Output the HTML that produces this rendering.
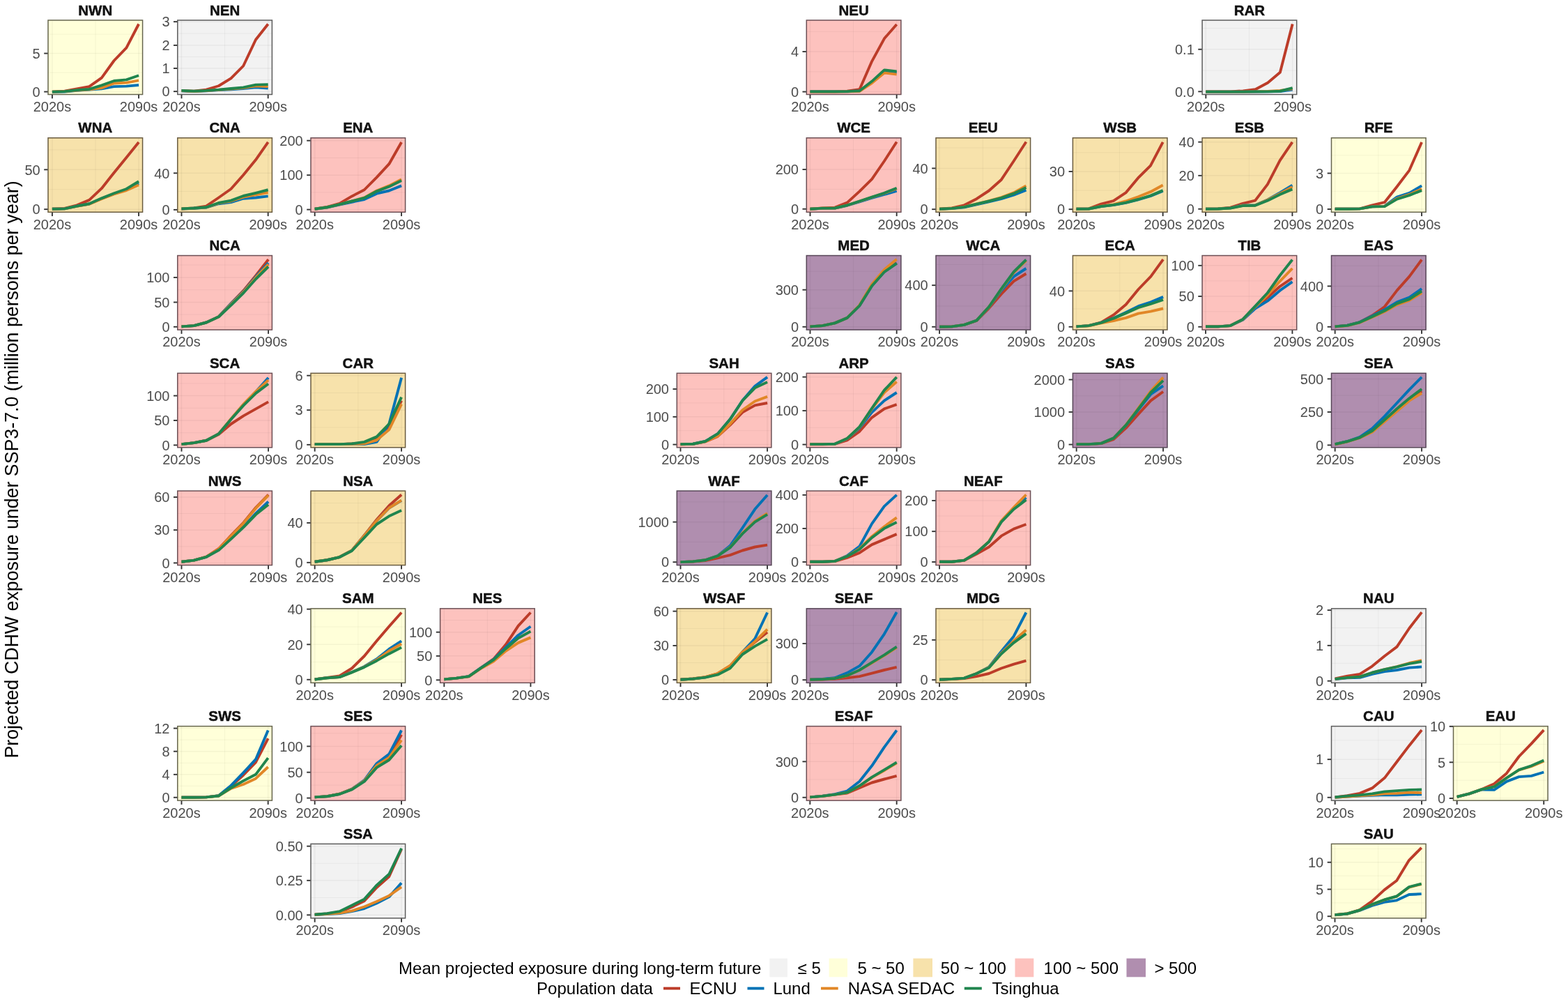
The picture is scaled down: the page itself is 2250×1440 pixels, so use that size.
<!DOCTYPE html><html><head><meta charset="utf-8"><title>CDHW exposure</title>
<style>html,body{margin:0;padding:0;background:#fff;}svg{display:block;}text{font-family:"Liberation Sans",Arial,Helvetica,sans-serif;}.tk{font-size:20px;fill:#4D4D4D;}.st{font-size:20.5px;font-weight:bold;fill:#111;stroke:#111;stroke-width:0.45px;}.lg{font-size:24px;fill:#000;}</style></head><body>
<svg xmlns="http://www.w3.org/2000/svg" width="2250" height="1440" viewBox="0 0 2250 1440">
<rect x="0" y="0" width="2250" height="1440" fill="#fff"/>
<g>
<rect x="69" y="29" width="135.6" height="106.5" fill="#FFFFD9"/>
<line x1="69" y1="49.08" x2="204.6" y2="49.08" stroke="rgba(0,0,0,0.045)" stroke-width="1.0"/>
<line x1="69" y1="104.08" x2="204.6" y2="104.08" stroke="rgba(0,0,0,0.045)" stroke-width="1.0"/>
<line x1="137" y1="29" x2="137" y2="135.5" stroke="rgba(0,0,0,0.045)" stroke-width="1.0"/>
<line x1="69" y1="76.58" x2="204.6" y2="76.58" stroke="rgba(0,0,0,0.045)" stroke-width="1.5"/>
<line x1="69" y1="131.58" x2="204.6" y2="131.58" stroke="rgba(0,0,0,0.045)" stroke-width="1.5"/>
<line x1="74.92" y1="29" x2="74.92" y2="135.5" stroke="rgba(0,0,0,0.045)" stroke-width="1.5"/>
<line x1="199.08" y1="29" x2="199.08" y2="135.5" stroke="rgba(0,0,0,0.045)" stroke-width="1.5"/>
<polyline points="74.92,131.58 92.65,130.75 110.39,127.42 128.13,124.08 145.87,111.58 163.61,87 181.35,68.67 199.08,34.5" fill="none" stroke="#BC3C29" stroke-width="3.9" stroke-linejoin="round" stroke-linecap="butt"/>
<polyline points="74.92,131.83 92.65,131.58 110.39,129.92 128.13,128.67 145.87,127.42 163.61,124.08 181.35,123.67 199.08,122" fill="none" stroke="#0072B5" stroke-width="3.9" stroke-linejoin="round" stroke-linecap="butt"/>
<polyline points="74.92,131.58 92.65,131.17 110.39,129.5 128.13,128.25 145.87,126.17 163.61,119.5 181.35,118.67 199.08,115.33" fill="none" stroke="#E18727" stroke-width="3.9" stroke-linejoin="round" stroke-linecap="butt"/>
<polyline points="74.92,131.58 92.65,131.17 110.39,129.08 128.13,127.83 145.87,122.42 163.61,116 181.35,114.33 199.08,108.25" fill="none" stroke="#20854E" stroke-width="3.9" stroke-linejoin="round" stroke-linecap="butt"/>
<rect x="69" y="29" width="135.6" height="106.5" fill="none" stroke="#66654E" stroke-width="1.5"/>
<line x1="63.2" y1="76.58" x2="68.5" y2="76.58" stroke="#333333" stroke-width="1.9"/>
<text class="tk" x="57.7" y="83.78" text-anchor="end">5</text>
<line x1="63.2" y1="131.58" x2="68.5" y2="131.58" stroke="#333333" stroke-width="1.9"/>
<text class="tk" x="57.7" y="138.78" text-anchor="end">0</text>
<line x1="74.92" y1="136" x2="74.92" y2="141.3" stroke="#333333" stroke-width="1.9"/>
<text class="tk" x="74.92" y="159.9" text-anchor="middle">2020s</text>
<line x1="199.08" y1="136" x2="199.08" y2="141.3" stroke="#333333" stroke-width="1.9"/>
<text class="tk" x="199.08" y="159.9" text-anchor="middle">2090s</text>
<text class="st" x="136.8" y="21.5" text-anchor="middle">NWN</text>
</g>
<g>
<rect x="254.8" y="29" width="135.6" height="106.5" fill="#F2F2F2"/>
<line x1="254.8" y1="48.04" x2="390.4" y2="48.04" stroke="rgba(0,0,0,0.045)" stroke-width="1.0"/>
<line x1="254.8" y1="81.46" x2="390.4" y2="81.46" stroke="rgba(0,0,0,0.045)" stroke-width="1.0"/>
<line x1="254.8" y1="114.58" x2="390.4" y2="114.58" stroke="rgba(0,0,0,0.045)" stroke-width="1.0"/>
<line x1="322.58" y1="29" x2="322.58" y2="135.5" stroke="rgba(0,0,0,0.045)" stroke-width="1.0"/>
<line x1="254.8" y1="31.17" x2="390.4" y2="31.17" stroke="rgba(0,0,0,0.045)" stroke-width="1.5"/>
<line x1="254.8" y1="64.92" x2="390.4" y2="64.92" stroke="rgba(0,0,0,0.045)" stroke-width="1.5"/>
<line x1="254.8" y1="98" x2="390.4" y2="98" stroke="rgba(0,0,0,0.045)" stroke-width="1.5"/>
<line x1="254.8" y1="131.17" x2="390.4" y2="131.17" stroke="rgba(0,0,0,0.045)" stroke-width="1.5"/>
<line x1="260.5" y1="29" x2="260.5" y2="135.5" stroke="rgba(0,0,0,0.045)" stroke-width="1.5"/>
<line x1="384.67" y1="29" x2="384.67" y2="135.5" stroke="rgba(0,0,0,0.045)" stroke-width="1.5"/>
<polyline points="260.5,130.17 278.24,130.75 295.98,128.67 313.71,123.25 331.45,112.42 349.19,94.5 366.93,57 384.67,34.5" fill="none" stroke="#BC3C29" stroke-width="3.9" stroke-linejoin="round" stroke-linecap="butt"/>
<polyline points="260.5,130.33 278.24,131.17 295.98,130.33 313.71,129.08 331.45,128.25 349.19,127 366.93,125.33 384.67,126.58" fill="none" stroke="#0072B5" stroke-width="3.9" stroke-linejoin="round" stroke-linecap="butt"/>
<polyline points="260.5,130.17 278.24,131 295.98,130.17 313.71,128.92 331.45,127.67 349.19,126.17 366.93,123.25 384.67,124.08" fill="none" stroke="#E18727" stroke-width="3.9" stroke-linejoin="round" stroke-linecap="butt"/>
<polyline points="260.5,129.92 278.24,130.75 295.98,129.92 313.71,128.67 331.45,127 349.19,125.33 366.93,121.58 384.67,121.17" fill="none" stroke="#20854E" stroke-width="3.9" stroke-linejoin="round" stroke-linecap="butt"/>
<rect x="254.8" y="29" width="135.6" height="106.5" fill="none" stroke="#5C5C5C" stroke-width="1.5"/>
<line x1="249" y1="31.17" x2="254.3" y2="31.17" stroke="#333333" stroke-width="1.9"/>
<text class="tk" x="243.5" y="38.37" text-anchor="end">3</text>
<line x1="249" y1="64.92" x2="254.3" y2="64.92" stroke="#333333" stroke-width="1.9"/>
<text class="tk" x="243.5" y="72.12" text-anchor="end">2</text>
<line x1="249" y1="98" x2="254.3" y2="98" stroke="#333333" stroke-width="1.9"/>
<text class="tk" x="243.5" y="105.2" text-anchor="end">1</text>
<line x1="249" y1="131.17" x2="254.3" y2="131.17" stroke="#333333" stroke-width="1.9"/>
<text class="tk" x="243.5" y="138.37" text-anchor="end">0</text>
<line x1="260.5" y1="136" x2="260.5" y2="141.3" stroke="#333333" stroke-width="1.9"/>
<text class="tk" x="260.5" y="159.9" text-anchor="middle">2020s</text>
<line x1="384.67" y1="136" x2="384.67" y2="141.3" stroke="#333333" stroke-width="1.9"/>
<text class="tk" x="384.67" y="159.9" text-anchor="middle">2090s</text>
<text class="st" x="322.6" y="21.5" text-anchor="middle">NEN</text>
</g>
<g>
<rect x="1157.3" y="29" width="135.6" height="106.5" fill="#FDC2BE"/>
<line x1="1157.3" y1="45.33" x2="1292.9" y2="45.33" stroke="rgba(0,0,0,0.045)" stroke-width="1.0"/>
<line x1="1157.3" y1="102.83" x2="1292.9" y2="102.83" stroke="rgba(0,0,0,0.045)" stroke-width="1.0"/>
<line x1="1224.58" y1="29" x2="1224.58" y2="135.5" stroke="rgba(0,0,0,0.045)" stroke-width="1.0"/>
<line x1="1157.3" y1="74.08" x2="1292.9" y2="74.08" stroke="rgba(0,0,0,0.045)" stroke-width="1.5"/>
<line x1="1157.3" y1="131.58" x2="1292.9" y2="131.58" stroke="rgba(0,0,0,0.045)" stroke-width="1.5"/>
<line x1="1162.5" y1="29" x2="1162.5" y2="135.5" stroke="rgba(0,0,0,0.045)" stroke-width="1.5"/>
<line x1="1286.67" y1="29" x2="1286.67" y2="135.5" stroke="rgba(0,0,0,0.045)" stroke-width="1.5"/>
<polyline points="1162.5,131.33 1180.24,131.33 1197.98,131.33 1215.71,130.75 1233.45,128.25 1251.19,87.83 1268.93,55.33 1286.67,34.92" fill="none" stroke="#BC3C29" stroke-width="3.9" stroke-linejoin="round" stroke-linecap="butt"/>
<polyline points="1162.5,131.42 1180.24,131.42 1197.98,131.42 1215.71,131.25 1233.45,130.5 1251.19,117.83 1268.93,102 1286.67,104.08" fill="none" stroke="#0072B5" stroke-width="3.9" stroke-linejoin="round" stroke-linecap="butt"/>
<polyline points="1162.5,131.58 1180.24,131.58 1197.98,131.58 1215.71,131.33 1233.45,130.75 1251.19,119.08 1268.93,104.5 1286.67,106.58" fill="none" stroke="#E18727" stroke-width="3.9" stroke-linejoin="round" stroke-linecap="butt"/>
<polyline points="1162.5,131.33 1180.24,131.33 1197.98,131.33 1215.71,131.17 1233.45,130.33 1251.19,116.58 1268.93,100.33 1286.67,102.42" fill="none" stroke="#20854E" stroke-width="3.9" stroke-linejoin="round" stroke-linecap="butt"/>
<rect x="1157.3" y="29" width="135.6" height="106.5" fill="none" stroke="#6C4F55" stroke-width="1.5"/>
<line x1="1151.5" y1="74.08" x2="1156.8" y2="74.08" stroke="#333333" stroke-width="1.9"/>
<text class="tk" x="1146" y="81.28" text-anchor="end">4</text>
<line x1="1151.5" y1="131.58" x2="1156.8" y2="131.58" stroke="#333333" stroke-width="1.9"/>
<text class="tk" x="1146" y="138.78" text-anchor="end">0</text>
<line x1="1162.5" y1="136" x2="1162.5" y2="141.3" stroke="#333333" stroke-width="1.9"/>
<text class="tk" x="1162.5" y="159.9" text-anchor="middle">2020s</text>
<line x1="1286.67" y1="136" x2="1286.67" y2="141.3" stroke="#333333" stroke-width="1.9"/>
<text class="tk" x="1286.67" y="159.9" text-anchor="middle">2090s</text>
<text class="st" x="1225.1" y="21.5" text-anchor="middle">NEU</text>
</g>
<g>
<rect x="1725.1" y="29" width="135.6" height="106.5" fill="#F2F2F2"/>
<line x1="1725.1" y1="40.46" x2="1860.7" y2="40.46" stroke="rgba(0,0,0,0.045)" stroke-width="1.0"/>
<line x1="1725.1" y1="101.04" x2="1860.7" y2="101.04" stroke="rgba(0,0,0,0.045)" stroke-width="1.0"/>
<line x1="1792.5" y1="29" x2="1792.5" y2="135.5" stroke="rgba(0,0,0,0.045)" stroke-width="1.0"/>
<line x1="1725.1" y1="70.75" x2="1860.7" y2="70.75" stroke="rgba(0,0,0,0.045)" stroke-width="1.5"/>
<line x1="1725.1" y1="131.33" x2="1860.7" y2="131.33" stroke="rgba(0,0,0,0.045)" stroke-width="1.5"/>
<line x1="1730.33" y1="29" x2="1730.33" y2="135.5" stroke="rgba(0,0,0,0.045)" stroke-width="1.5"/>
<line x1="1854.67" y1="29" x2="1854.67" y2="135.5" stroke="rgba(0,0,0,0.045)" stroke-width="1.5"/>
<polyline points="1730.33,131.33 1748.1,131.33 1765.86,131.33 1783.62,130.33 1801.38,128.25 1819.14,118.67 1836.9,103.67 1854.67,34.5" fill="none" stroke="#BC3C29" stroke-width="3.9" stroke-linejoin="round" stroke-linecap="butt"/>
<polyline points="1730.33,131.58 1748.1,131.58 1765.86,131.58 1783.62,131.58 1801.38,131.5 1819.14,131.33 1836.9,131.17 1854.67,128.67" fill="none" stroke="#0072B5" stroke-width="3.9" stroke-linejoin="round" stroke-linecap="butt"/>
<polyline points="1730.33,131.58 1748.1,131.58 1765.86,131.58 1783.62,131.58 1801.38,131.33 1819.14,131 1836.9,129.92 1854.67,127.42" fill="none" stroke="#E18727" stroke-width="3.9" stroke-linejoin="round" stroke-linecap="butt"/>
<polyline points="1730.33,131.58 1748.1,131.58 1765.86,131.58 1783.62,131.58 1801.38,131.42 1819.14,131.33 1836.9,130.75 1854.67,126.17" fill="none" stroke="#20854E" stroke-width="3.9" stroke-linejoin="round" stroke-linecap="butt"/>
<rect x="1725.1" y="29" width="135.6" height="106.5" fill="none" stroke="#5C5C5C" stroke-width="1.5"/>
<line x1="1719.3" y1="70.75" x2="1724.6" y2="70.75" stroke="#333333" stroke-width="1.9"/>
<text class="tk" x="1713.8" y="77.95" text-anchor="end">0.1</text>
<line x1="1719.3" y1="131.33" x2="1724.6" y2="131.33" stroke="#333333" stroke-width="1.9"/>
<text class="tk" x="1713.8" y="138.53" text-anchor="end">0.0</text>
<line x1="1730.33" y1="136" x2="1730.33" y2="141.3" stroke="#333333" stroke-width="1.9"/>
<text class="tk" x="1730.33" y="159.9" text-anchor="middle">2020s</text>
<line x1="1854.67" y1="136" x2="1854.67" y2="141.3" stroke="#333333" stroke-width="1.9"/>
<text class="tk" x="1854.67" y="159.9" text-anchor="middle">2090s</text>
<text class="st" x="1792.9" y="21.5" text-anchor="middle">RAR</text>
</g>
<g>
<rect x="69" y="197.77" width="135.6" height="106.5" fill="#F7E2AB"/>
<line x1="69" y1="214.92" x2="204.6" y2="214.92" stroke="rgba(0,0,0,0.045)" stroke-width="1.0"/>
<line x1="69" y1="271.75" x2="204.6" y2="271.75" stroke="rgba(0,0,0,0.045)" stroke-width="1.0"/>
<line x1="137" y1="197.77" x2="137" y2="304.27" stroke="rgba(0,0,0,0.045)" stroke-width="1.0"/>
<line x1="69" y1="243.33" x2="204.6" y2="243.33" stroke="rgba(0,0,0,0.045)" stroke-width="1.5"/>
<line x1="69" y1="300.17" x2="204.6" y2="300.17" stroke="rgba(0,0,0,0.045)" stroke-width="1.5"/>
<line x1="74.92" y1="197.77" x2="74.92" y2="304.27" stroke="rgba(0,0,0,0.045)" stroke-width="1.5"/>
<line x1="199.08" y1="197.77" x2="199.08" y2="304.27" stroke="rgba(0,0,0,0.045)" stroke-width="1.5"/>
<polyline points="74.92,299.75 92.65,298.92 110.39,294.33 128.13,286.83 145.87,270.17 163.61,247.67 181.35,226 199.08,203.92" fill="none" stroke="#BC3C29" stroke-width="3.9" stroke-linejoin="round" stroke-linecap="butt"/>
<polyline points="74.92,299.75 92.65,299.33 110.39,295.67 128.13,292.5 145.87,284.75 163.61,277.83 181.35,272 199.08,262.67" fill="none" stroke="#0072B5" stroke-width="3.9" stroke-linejoin="round" stroke-linecap="butt"/>
<polyline points="74.92,299.75 92.65,299.33 110.39,295.83 128.13,292.67 145.87,285.17 163.61,278.5 181.35,273.08 199.08,265.17" fill="none" stroke="#E18727" stroke-width="3.9" stroke-linejoin="round" stroke-linecap="butt"/>
<polyline points="74.92,299.75 92.65,299.33 110.39,295.58 128.13,292.25 145.87,284.33 163.61,277.25 181.35,271 199.08,260.17" fill="none" stroke="#20854E" stroke-width="3.9" stroke-linejoin="round" stroke-linecap="butt"/>
<rect x="69" y="197.77" width="135.6" height="106.5" fill="none" stroke="#6A5C40" stroke-width="1.5"/>
<line x1="63.2" y1="243.33" x2="68.5" y2="243.33" stroke="#333333" stroke-width="1.9"/>
<text class="tk" x="57.7" y="250.53" text-anchor="end">50</text>
<line x1="63.2" y1="300.17" x2="68.5" y2="300.17" stroke="#333333" stroke-width="1.9"/>
<text class="tk" x="57.7" y="307.37" text-anchor="end">0</text>
<line x1="74.92" y1="304.77" x2="74.92" y2="310.07" stroke="#333333" stroke-width="1.9"/>
<text class="tk" x="74.92" y="328.67" text-anchor="middle">2020s</text>
<line x1="199.08" y1="304.77" x2="199.08" y2="310.07" stroke="#333333" stroke-width="1.9"/>
<text class="tk" x="199.08" y="328.67" text-anchor="middle">2090s</text>
<text class="st" x="136.8" y="190.27" text-anchor="middle">WNA</text>
</g>
<g>
<rect x="254.8" y="197.77" width="135.6" height="106.5" fill="#F7E2AB"/>
<line x1="254.8" y1="222.08" x2="390.4" y2="222.08" stroke="rgba(0,0,0,0.045)" stroke-width="1.0"/>
<line x1="254.8" y1="274.58" x2="390.4" y2="274.58" stroke="rgba(0,0,0,0.045)" stroke-width="1.0"/>
<line x1="322.58" y1="197.77" x2="322.58" y2="304.27" stroke="rgba(0,0,0,0.045)" stroke-width="1.0"/>
<line x1="254.8" y1="248.33" x2="390.4" y2="248.33" stroke="rgba(0,0,0,0.045)" stroke-width="1.5"/>
<line x1="254.8" y1="300.83" x2="390.4" y2="300.83" stroke="rgba(0,0,0,0.045)" stroke-width="1.5"/>
<line x1="260.5" y1="197.77" x2="260.5" y2="304.27" stroke="rgba(0,0,0,0.045)" stroke-width="1.5"/>
<line x1="384.67" y1="197.77" x2="384.67" y2="304.27" stroke="rgba(0,0,0,0.045)" stroke-width="1.5"/>
<polyline points="260.5,299.33 278.24,298.5 295.98,295.58 313.71,283.5 331.45,271 349.19,251 366.93,229.33 384.67,203.92" fill="none" stroke="#BC3C29" stroke-width="3.9" stroke-linejoin="round" stroke-linecap="butt"/>
<polyline points="260.5,299.58 278.24,298.75 295.98,297.67 313.71,292.25 331.45,290.17 349.19,284.75 366.93,283.5 384.67,281.42" fill="none" stroke="#0072B5" stroke-width="3.9" stroke-linejoin="round" stroke-linecap="butt"/>
<polyline points="260.5,299.5 278.24,298.67 295.98,297.42 313.71,291.42 331.45,288.5 349.19,282.67 366.93,279.33 384.67,276" fill="none" stroke="#E18727" stroke-width="3.9" stroke-linejoin="round" stroke-linecap="butt"/>
<polyline points="260.5,299.33 278.24,298.5 295.98,297.25 313.71,291 331.45,287.67 349.19,281 366.93,276.83 384.67,272.25" fill="none" stroke="#20854E" stroke-width="3.9" stroke-linejoin="round" stroke-linecap="butt"/>
<rect x="254.8" y="197.77" width="135.6" height="106.5" fill="none" stroke="#6A5C40" stroke-width="1.5"/>
<line x1="249" y1="248.33" x2="254.3" y2="248.33" stroke="#333333" stroke-width="1.9"/>
<text class="tk" x="243.5" y="255.53" text-anchor="end">40</text>
<line x1="249" y1="300.83" x2="254.3" y2="300.83" stroke="#333333" stroke-width="1.9"/>
<text class="tk" x="243.5" y="308.03" text-anchor="end">0</text>
<line x1="260.5" y1="304.77" x2="260.5" y2="310.07" stroke="#333333" stroke-width="1.9"/>
<text class="tk" x="260.5" y="328.67" text-anchor="middle">2020s</text>
<line x1="384.67" y1="304.77" x2="384.67" y2="310.07" stroke="#333333" stroke-width="1.9"/>
<text class="tk" x="384.67" y="328.67" text-anchor="middle">2090s</text>
<text class="st" x="322.6" y="190.27" text-anchor="middle">CNA</text>
</g>
<g>
<rect x="446" y="197.77" width="135.6" height="106.5" fill="#FDC2BE"/>
<line x1="446" y1="226.42" x2="581.6" y2="226.42" stroke="rgba(0,0,0,0.045)" stroke-width="1.0"/>
<line x1="446" y1="275.88" x2="581.6" y2="275.88" stroke="rgba(0,0,0,0.045)" stroke-width="1.0"/>
<line x1="513.88" y1="197.77" x2="513.88" y2="304.27" stroke="rgba(0,0,0,0.045)" stroke-width="1.0"/>
<line x1="446" y1="201.67" x2="581.6" y2="201.67" stroke="rgba(0,0,0,0.045)" stroke-width="1.5"/>
<line x1="446" y1="251.17" x2="581.6" y2="251.17" stroke="rgba(0,0,0,0.045)" stroke-width="1.5"/>
<line x1="446" y1="300.58" x2="581.6" y2="300.58" stroke="rgba(0,0,0,0.045)" stroke-width="1.5"/>
<line x1="451.67" y1="197.77" x2="451.67" y2="304.27" stroke="rgba(0,0,0,0.045)" stroke-width="1.5"/>
<line x1="576.08" y1="197.77" x2="576.08" y2="304.27" stroke="rgba(0,0,0,0.045)" stroke-width="1.5"/>
<polyline points="451.67,299.75 469.44,296.83 487.21,291.83 504.99,281.42 522.76,272.25 540.54,254.33 558.31,235.17 576.08,203.92" fill="none" stroke="#BC3C29" stroke-width="3.9" stroke-linejoin="round" stroke-linecap="butt"/>
<polyline points="451.67,299.75 469.44,297.5 487.21,293.5 504.99,289.75 522.76,286 540.54,277.67 558.31,273.5 576.08,266.42" fill="none" stroke="#0072B5" stroke-width="3.9" stroke-linejoin="round" stroke-linecap="butt"/>
<polyline points="451.67,299.75 469.44,297.25 487.21,293.08 504.99,288.33 522.76,283.5 540.54,273.5 558.31,266.42 576.08,257.25" fill="none" stroke="#E18727" stroke-width="3.9" stroke-linejoin="round" stroke-linecap="butt"/>
<polyline points="451.67,299.75 469.44,297.25 487.21,293.08 504.99,288.5 522.76,283.92 540.54,274.33 558.31,267.67 576.08,258.92" fill="none" stroke="#20854E" stroke-width="3.9" stroke-linejoin="round" stroke-linecap="butt"/>
<rect x="446" y="197.77" width="135.6" height="106.5" fill="none" stroke="#6C4F55" stroke-width="1.5"/>
<line x1="440.2" y1="201.67" x2="445.5" y2="201.67" stroke="#333333" stroke-width="1.9"/>
<text class="tk" x="434.7" y="208.87" text-anchor="end">200</text>
<line x1="440.2" y1="251.17" x2="445.5" y2="251.17" stroke="#333333" stroke-width="1.9"/>
<text class="tk" x="434.7" y="258.37" text-anchor="end">100</text>
<line x1="440.2" y1="300.58" x2="445.5" y2="300.58" stroke="#333333" stroke-width="1.9"/>
<text class="tk" x="434.7" y="307.78" text-anchor="end">0</text>
<line x1="451.67" y1="304.77" x2="451.67" y2="310.07" stroke="#333333" stroke-width="1.9"/>
<text class="tk" x="451.67" y="328.67" text-anchor="middle">2020s</text>
<line x1="576.08" y1="304.77" x2="576.08" y2="310.07" stroke="#333333" stroke-width="1.9"/>
<text class="tk" x="576.08" y="328.67" text-anchor="middle">2090s</text>
<text class="st" x="513.8" y="190.27" text-anchor="middle">ENA</text>
</g>
<g>
<rect x="1157.3" y="197.77" width="135.6" height="106.5" fill="#FDC2BE"/>
<line x1="1157.3" y1="214.75" x2="1292.9" y2="214.75" stroke="rgba(0,0,0,0.045)" stroke-width="1.0"/>
<line x1="1157.3" y1="271.42" x2="1292.9" y2="271.42" stroke="rgba(0,0,0,0.045)" stroke-width="1.0"/>
<line x1="1224.58" y1="197.77" x2="1224.58" y2="304.27" stroke="rgba(0,0,0,0.045)" stroke-width="1.0"/>
<line x1="1157.3" y1="243.08" x2="1292.9" y2="243.08" stroke="rgba(0,0,0,0.045)" stroke-width="1.5"/>
<line x1="1157.3" y1="299.75" x2="1292.9" y2="299.75" stroke="rgba(0,0,0,0.045)" stroke-width="1.5"/>
<line x1="1162.5" y1="197.77" x2="1162.5" y2="304.27" stroke="rgba(0,0,0,0.045)" stroke-width="1.5"/>
<line x1="1286.67" y1="197.77" x2="1286.67" y2="304.27" stroke="rgba(0,0,0,0.045)" stroke-width="1.5"/>
<polyline points="1162.5,299.75 1180.24,298.5 1197.98,297.67 1215.71,290.58 1233.45,274.33 1251.19,256.83 1268.93,231 1286.67,203.5" fill="none" stroke="#BC3C29" stroke-width="3.9" stroke-linejoin="round" stroke-linecap="butt"/>
<polyline points="1162.5,299.75 1180.24,298.83 1197.98,298.67 1215.71,294.75 1233.45,289.33 1251.19,283.92 1268.93,278.92 1286.67,273.92" fill="none" stroke="#0072B5" stroke-width="3.9" stroke-linejoin="round" stroke-linecap="butt"/>
<polyline points="1162.5,299.75 1180.24,298.67 1197.98,298.5 1215.71,294.42 1233.45,288.67 1251.19,282.92 1268.93,277.25 1286.67,270.33" fill="none" stroke="#E18727" stroke-width="3.9" stroke-linejoin="round" stroke-linecap="butt"/>
<polyline points="1162.5,299.75 1180.24,298.67 1197.98,298.5 1215.71,294.33 1233.45,288.5 1251.19,282.67 1268.93,276.83 1286.67,269.75" fill="none" stroke="#20854E" stroke-width="3.9" stroke-linejoin="round" stroke-linecap="butt"/>
<rect x="1157.3" y="197.77" width="135.6" height="106.5" fill="none" stroke="#6C4F55" stroke-width="1.5"/>
<line x1="1151.5" y1="243.08" x2="1156.8" y2="243.08" stroke="#333333" stroke-width="1.9"/>
<text class="tk" x="1146" y="250.28" text-anchor="end">200</text>
<line x1="1151.5" y1="299.75" x2="1156.8" y2="299.75" stroke="#333333" stroke-width="1.9"/>
<text class="tk" x="1146" y="306.95" text-anchor="end">0</text>
<line x1="1162.5" y1="304.77" x2="1162.5" y2="310.07" stroke="#333333" stroke-width="1.9"/>
<text class="tk" x="1162.5" y="328.67" text-anchor="middle">2020s</text>
<line x1="1286.67" y1="304.77" x2="1286.67" y2="310.07" stroke="#333333" stroke-width="1.9"/>
<text class="tk" x="1286.67" y="328.67" text-anchor="middle">2090s</text>
<text class="st" x="1225.1" y="190.27" text-anchor="middle">WCE</text>
</g>
<g>
<rect x="1343" y="197.77" width="135.6" height="106.5" fill="#F7E2AB"/>
<line x1="1343" y1="212.04" x2="1478.6" y2="212.04" stroke="rgba(0,0,0,0.045)" stroke-width="1.0"/>
<line x1="1343" y1="270.79" x2="1478.6" y2="270.79" stroke="rgba(0,0,0,0.045)" stroke-width="1.0"/>
<line x1="1410.25" y1="197.77" x2="1410.25" y2="304.27" stroke="rgba(0,0,0,0.045)" stroke-width="1.0"/>
<line x1="1343" y1="241.42" x2="1478.6" y2="241.42" stroke="rgba(0,0,0,0.045)" stroke-width="1.5"/>
<line x1="1343" y1="300.17" x2="1478.6" y2="300.17" stroke="rgba(0,0,0,0.045)" stroke-width="1.5"/>
<line x1="1348.08" y1="197.77" x2="1348.08" y2="304.27" stroke="rgba(0,0,0,0.045)" stroke-width="1.5"/>
<line x1="1472.42" y1="197.77" x2="1472.42" y2="304.27" stroke="rgba(0,0,0,0.045)" stroke-width="1.5"/>
<polyline points="1348.08,299.75 1365.85,298.5 1383.61,294.33 1401.37,285.17 1419.13,273.5 1436.89,257.67 1454.65,231 1472.42,203.5" fill="none" stroke="#BC3C29" stroke-width="3.9" stroke-linejoin="round" stroke-linecap="butt"/>
<polyline points="1348.08,299.92 1365.85,299.08 1383.61,297.25 1401.37,293.33 1419.13,289.33 1436.89,285.17 1454.65,279.75 1472.42,272.67" fill="none" stroke="#0072B5" stroke-width="3.9" stroke-linejoin="round" stroke-linecap="butt"/>
<polyline points="1348.08,299.75 1365.85,298.92 1383.61,296.67 1401.37,292.5 1419.13,288.08 1436.89,283.08 1454.65,276.42 1472.42,266.42" fill="none" stroke="#E18727" stroke-width="3.9" stroke-linejoin="round" stroke-linecap="butt"/>
<polyline points="1348.08,299.75 1365.85,298.92 1383.61,296.83 1401.37,292.67 1419.13,288.5 1436.89,283.92 1454.65,277.67 1472.42,268.92" fill="none" stroke="#20854E" stroke-width="3.9" stroke-linejoin="round" stroke-linecap="butt"/>
<rect x="1343" y="197.77" width="135.6" height="106.5" fill="none" stroke="#6A5C40" stroke-width="1.5"/>
<line x1="1337.2" y1="241.42" x2="1342.5" y2="241.42" stroke="#333333" stroke-width="1.9"/>
<text class="tk" x="1331.7" y="248.62" text-anchor="end">40</text>
<line x1="1337.2" y1="300.17" x2="1342.5" y2="300.17" stroke="#333333" stroke-width="1.9"/>
<text class="tk" x="1331.7" y="307.37" text-anchor="end">0</text>
<line x1="1348.08" y1="304.77" x2="1348.08" y2="310.07" stroke="#333333" stroke-width="1.9"/>
<text class="tk" x="1348.08" y="328.67" text-anchor="middle">2020s</text>
<line x1="1472.42" y1="304.77" x2="1472.42" y2="310.07" stroke="#333333" stroke-width="1.9"/>
<text class="tk" x="1472.42" y="328.67" text-anchor="middle">2090s</text>
<text class="st" x="1410.8" y="190.27" text-anchor="middle">EEU</text>
</g>
<g>
<rect x="1539.4" y="197.77" width="135.6" height="106.5" fill="#F7E2AB"/>
<line x1="1539.4" y1="218.92" x2="1675" y2="218.92" stroke="rgba(0,0,0,0.045)" stroke-width="1.0"/>
<line x1="1539.4" y1="273.08" x2="1675" y2="273.08" stroke="rgba(0,0,0,0.045)" stroke-width="1.0"/>
<line x1="1606.58" y1="197.77" x2="1606.58" y2="304.27" stroke="rgba(0,0,0,0.045)" stroke-width="1.0"/>
<line x1="1539.4" y1="246" x2="1675" y2="246" stroke="rgba(0,0,0,0.045)" stroke-width="1.5"/>
<line x1="1539.4" y1="300.17" x2="1675" y2="300.17" stroke="rgba(0,0,0,0.045)" stroke-width="1.5"/>
<line x1="1544.5" y1="197.77" x2="1544.5" y2="304.27" stroke="rgba(0,0,0,0.045)" stroke-width="1.5"/>
<line x1="1668.67" y1="197.77" x2="1668.67" y2="304.27" stroke="rgba(0,0,0,0.045)" stroke-width="1.5"/>
<polyline points="1544.5,299.75 1562.24,299.33 1579.98,292.67 1597.71,288.08 1615.45,276.42 1633.19,255.17 1650.93,237.67 1668.67,203.92" fill="none" stroke="#BC3C29" stroke-width="3.9" stroke-linejoin="round" stroke-linecap="butt"/>
<polyline points="1544.5,299.75 1562.24,299.5 1579.98,296.17 1597.71,294.08 1615.45,290.83 1633.19,286.42 1650.93,281.17 1668.67,273.92" fill="none" stroke="#0072B5" stroke-width="3.9" stroke-linejoin="round" stroke-linecap="butt"/>
<polyline points="1544.5,299.75 1562.24,299.5 1579.98,295.58 1597.71,293.5 1615.45,288.5 1633.19,282.25 1650.93,275.17 1668.67,265.58" fill="none" stroke="#E18727" stroke-width="3.9" stroke-linejoin="round" stroke-linecap="butt"/>
<polyline points="1544.5,299.75 1562.24,299.5 1579.98,296 1597.71,293.92 1615.45,290.58 1633.19,286 1650.93,280.58 1668.67,273.08" fill="none" stroke="#20854E" stroke-width="3.9" stroke-linejoin="round" stroke-linecap="butt"/>
<rect x="1539.4" y="197.77" width="135.6" height="106.5" fill="none" stroke="#6A5C40" stroke-width="1.5"/>
<line x1="1533.6" y1="246" x2="1538.9" y2="246" stroke="#333333" stroke-width="1.9"/>
<text class="tk" x="1528.1" y="253.2" text-anchor="end">30</text>
<line x1="1533.6" y1="300.17" x2="1538.9" y2="300.17" stroke="#333333" stroke-width="1.9"/>
<text class="tk" x="1528.1" y="307.37" text-anchor="end">0</text>
<line x1="1544.5" y1="304.77" x2="1544.5" y2="310.07" stroke="#333333" stroke-width="1.9"/>
<text class="tk" x="1544.5" y="328.67" text-anchor="middle">2020s</text>
<line x1="1668.67" y1="304.77" x2="1668.67" y2="310.07" stroke="#333333" stroke-width="1.9"/>
<text class="tk" x="1668.67" y="328.67" text-anchor="middle">2090s</text>
<text class="st" x="1607.2" y="190.27" text-anchor="middle">WSB</text>
</g>
<g>
<rect x="1725.1" y="197.77" width="135.6" height="106.5" fill="#F7E2AB"/>
<line x1="1725.1" y1="227.75" x2="1860.7" y2="227.75" stroke="rgba(0,0,0,0.045)" stroke-width="1.0"/>
<line x1="1725.1" y1="275.79" x2="1860.7" y2="275.79" stroke="rgba(0,0,0,0.045)" stroke-width="1.0"/>
<line x1="1792.25" y1="197.77" x2="1792.25" y2="304.27" stroke="rgba(0,0,0,0.045)" stroke-width="1.0"/>
<line x1="1725.1" y1="203.67" x2="1860.7" y2="203.67" stroke="rgba(0,0,0,0.045)" stroke-width="1.5"/>
<line x1="1725.1" y1="251.83" x2="1860.7" y2="251.83" stroke="rgba(0,0,0,0.045)" stroke-width="1.5"/>
<line x1="1725.1" y1="299.75" x2="1860.7" y2="299.75" stroke="rgba(0,0,0,0.045)" stroke-width="1.5"/>
<line x1="1730.08" y1="197.77" x2="1730.08" y2="304.27" stroke="rgba(0,0,0,0.045)" stroke-width="1.5"/>
<line x1="1854.42" y1="197.77" x2="1854.42" y2="304.27" stroke="rgba(0,0,0,0.045)" stroke-width="1.5"/>
<polyline points="1730.08,299.75 1747.85,299.33 1765.61,297.67 1783.37,291.83 1801.13,287.67 1818.89,264.33 1836.65,230.17 1854.42,203.92" fill="none" stroke="#BC3C29" stroke-width="3.9" stroke-linejoin="round" stroke-linecap="butt"/>
<polyline points="1730.08,299.75 1747.85,299.5 1765.61,298.33 1783.37,294.33 1801.13,294.33 1818.89,286.42 1836.65,276.42 1854.42,265.58" fill="none" stroke="#0072B5" stroke-width="3.9" stroke-linejoin="round" stroke-linecap="butt"/>
<polyline points="1730.08,299.75 1747.85,299.5 1765.61,298.42 1783.37,294.75 1801.13,294.5 1818.89,286.83 1836.65,277.67 1854.42,268.08" fill="none" stroke="#E18727" stroke-width="3.9" stroke-linejoin="round" stroke-linecap="butt"/>
<polyline points="1730.08,299.75 1747.85,299.5 1765.61,298.5 1783.37,295.17 1801.13,294.75 1818.89,287.67 1836.65,278.92 1854.42,271.42" fill="none" stroke="#20854E" stroke-width="3.9" stroke-linejoin="round" stroke-linecap="butt"/>
<rect x="1725.1" y="197.77" width="135.6" height="106.5" fill="none" stroke="#6A5C40" stroke-width="1.5"/>
<line x1="1719.3" y1="203.67" x2="1724.6" y2="203.67" stroke="#333333" stroke-width="1.9"/>
<text class="tk" x="1713.8" y="210.87" text-anchor="end">40</text>
<line x1="1719.3" y1="251.83" x2="1724.6" y2="251.83" stroke="#333333" stroke-width="1.9"/>
<text class="tk" x="1713.8" y="259.03" text-anchor="end">20</text>
<line x1="1719.3" y1="299.75" x2="1724.6" y2="299.75" stroke="#333333" stroke-width="1.9"/>
<text class="tk" x="1713.8" y="306.95" text-anchor="end">0</text>
<line x1="1730.08" y1="304.77" x2="1730.08" y2="310.07" stroke="#333333" stroke-width="1.9"/>
<text class="tk" x="1730.08" y="328.67" text-anchor="middle">2020s</text>
<line x1="1854.42" y1="304.77" x2="1854.42" y2="310.07" stroke="#333333" stroke-width="1.9"/>
<text class="tk" x="1854.42" y="328.67" text-anchor="middle">2090s</text>
<text class="st" x="1792.9" y="190.27" text-anchor="middle">ESB</text>
</g>
<g>
<rect x="1910.5" y="197.77" width="135.6" height="106.5" fill="#FFFFD9"/>
<line x1="1910.5" y1="222.75" x2="2046.1" y2="222.75" stroke="rgba(0,0,0,0.045)" stroke-width="1.0"/>
<line x1="1910.5" y1="274.25" x2="2046.1" y2="274.25" stroke="rgba(0,0,0,0.045)" stroke-width="1.0"/>
<line x1="1977.88" y1="197.77" x2="1977.88" y2="304.27" stroke="rgba(0,0,0,0.045)" stroke-width="1.0"/>
<line x1="1910.5" y1="248.5" x2="2046.1" y2="248.5" stroke="rgba(0,0,0,0.045)" stroke-width="1.5"/>
<line x1="1910.5" y1="300" x2="2046.1" y2="300" stroke="rgba(0,0,0,0.045)" stroke-width="1.5"/>
<line x1="1915.67" y1="197.77" x2="1915.67" y2="304.27" stroke="rgba(0,0,0,0.045)" stroke-width="1.5"/>
<line x1="2040.08" y1="197.77" x2="2040.08" y2="304.27" stroke="rgba(0,0,0,0.045)" stroke-width="1.5"/>
<polyline points="1915.67,299.75 1933.44,299.75 1951.21,299.33 1968.99,294.33 1986.76,290.17 2004.54,267.67 2022.31,244.33 2040.08,203.92" fill="none" stroke="#BC3C29" stroke-width="3.9" stroke-linejoin="round" stroke-linecap="butt"/>
<polyline points="1915.67,299.75 1933.44,299.75 1951.21,299.33 1968.99,296.42 1986.76,295.58 2004.54,282.67 2022.31,276.83 2040.08,266.42" fill="none" stroke="#0072B5" stroke-width="3.9" stroke-linejoin="round" stroke-linecap="butt"/>
<polyline points="1915.67,299.75 1933.44,299.75 1951.21,299.33 1968.99,296.42 1986.76,296 2004.54,284.75 2022.31,278.92 2040.08,271" fill="none" stroke="#E18727" stroke-width="3.9" stroke-linejoin="round" stroke-linecap="butt"/>
<polyline points="1915.67,299.75 1933.44,299.75 1951.21,299.33 1968.99,296.42 1986.76,296.17 2004.54,285.58 2022.31,280.17 2040.08,273.08" fill="none" stroke="#20854E" stroke-width="3.9" stroke-linejoin="round" stroke-linecap="butt"/>
<rect x="1910.5" y="197.77" width="135.6" height="106.5" fill="none" stroke="#66654E" stroke-width="1.5"/>
<line x1="1904.7" y1="248.5" x2="1910" y2="248.5" stroke="#333333" stroke-width="1.9"/>
<text class="tk" x="1899.2" y="255.7" text-anchor="end">3</text>
<line x1="1904.7" y1="300" x2="1910" y2="300" stroke="#333333" stroke-width="1.9"/>
<text class="tk" x="1899.2" y="307.2" text-anchor="end">0</text>
<line x1="1915.67" y1="304.77" x2="1915.67" y2="310.07" stroke="#333333" stroke-width="1.9"/>
<text class="tk" x="1915.67" y="328.67" text-anchor="middle">2020s</text>
<line x1="2040.08" y1="304.77" x2="2040.08" y2="310.07" stroke="#333333" stroke-width="1.9"/>
<text class="tk" x="2040.08" y="328.67" text-anchor="middle">2090s</text>
<text class="st" x="1978.3" y="190.27" text-anchor="middle">RFE</text>
</g>
<g>
<rect x="254.8" y="366.54" width="135.6" height="106.5" fill="#FDC2BE"/>
<line x1="254.8" y1="380.12" x2="390.4" y2="380.12" stroke="rgba(0,0,0,0.045)" stroke-width="1.0"/>
<line x1="254.8" y1="415.71" x2="390.4" y2="415.71" stroke="rgba(0,0,0,0.045)" stroke-width="1.0"/>
<line x1="254.8" y1="451.12" x2="390.4" y2="451.12" stroke="rgba(0,0,0,0.045)" stroke-width="1.0"/>
<line x1="322.79" y1="366.54" x2="322.79" y2="473.04" stroke="rgba(0,0,0,0.045)" stroke-width="1.0"/>
<line x1="254.8" y1="397.92" x2="390.4" y2="397.92" stroke="rgba(0,0,0,0.045)" stroke-width="1.5"/>
<line x1="254.8" y1="433.5" x2="390.4" y2="433.5" stroke="rgba(0,0,0,0.045)" stroke-width="1.5"/>
<line x1="254.8" y1="468.75" x2="390.4" y2="468.75" stroke="rgba(0,0,0,0.045)" stroke-width="1.5"/>
<line x1="260.5" y1="366.54" x2="260.5" y2="473.04" stroke="rgba(0,0,0,0.045)" stroke-width="1.5"/>
<line x1="385.08" y1="366.54" x2="385.08" y2="473.04" stroke="rgba(0,0,0,0.045)" stroke-width="1.5"/>
<polyline points="260.5,468.33 278.3,467.08 296.1,462.5 313.89,454.17 331.69,435 349.49,416.67 367.29,395 385.08,372.08" fill="none" stroke="#BC3C29" stroke-width="3.9" stroke-linejoin="round" stroke-linecap="butt"/>
<polyline points="260.5,468.33 278.3,467.08 296.1,462.5 313.89,454.17 331.69,435.42 349.49,417.92 367.29,396.67 385.08,377.08" fill="none" stroke="#0072B5" stroke-width="3.9" stroke-linejoin="round" stroke-linecap="butt"/>
<polyline points="260.5,468.33 278.3,467.08 296.1,462.5 313.89,454.25 331.69,436.25 349.49,418.75 367.29,397.92 385.08,379.17" fill="none" stroke="#E18727" stroke-width="3.9" stroke-linejoin="round" stroke-linecap="butt"/>
<polyline points="260.5,468.33 278.3,467.08 296.1,462.5 313.89,454.33 331.69,437.5 349.49,420 367.29,400 385.08,382.5" fill="none" stroke="#20854E" stroke-width="3.9" stroke-linejoin="round" stroke-linecap="butt"/>
<rect x="254.8" y="366.54" width="135.6" height="106.5" fill="none" stroke="#6C4F55" stroke-width="1.5"/>
<line x1="249" y1="397.92" x2="254.3" y2="397.92" stroke="#333333" stroke-width="1.9"/>
<text class="tk" x="243.5" y="405.12" text-anchor="end">100</text>
<line x1="249" y1="433.5" x2="254.3" y2="433.5" stroke="#333333" stroke-width="1.9"/>
<text class="tk" x="243.5" y="440.7" text-anchor="end">50</text>
<line x1="249" y1="468.75" x2="254.3" y2="468.75" stroke="#333333" stroke-width="1.9"/>
<text class="tk" x="243.5" y="475.95" text-anchor="end">0</text>
<line x1="260.5" y1="473.54" x2="260.5" y2="478.84" stroke="#333333" stroke-width="1.9"/>
<text class="tk" x="260.5" y="497.44" text-anchor="middle">2020s</text>
<line x1="385.08" y1="473.54" x2="385.08" y2="478.84" stroke="#333333" stroke-width="1.9"/>
<text class="tk" x="385.08" y="497.44" text-anchor="middle">2090s</text>
<text class="st" x="322.6" y="359.04" text-anchor="middle">NCA</text>
</g>
<g>
<rect x="1157.3" y="366.54" width="135.6" height="106.5" fill="#B08EAF"/>
<line x1="1157.3" y1="389.12" x2="1292.9" y2="389.12" stroke="rgba(0,0,0,0.045)" stroke-width="1.0"/>
<line x1="1157.3" y1="442.21" x2="1292.9" y2="442.21" stroke="rgba(0,0,0,0.045)" stroke-width="1.0"/>
<line x1="1224.58" y1="366.54" x2="1224.58" y2="473.04" stroke="rgba(0,0,0,0.045)" stroke-width="1.0"/>
<line x1="1157.3" y1="415.67" x2="1292.9" y2="415.67" stroke="rgba(0,0,0,0.045)" stroke-width="1.5"/>
<line x1="1157.3" y1="468.75" x2="1292.9" y2="468.75" stroke="rgba(0,0,0,0.045)" stroke-width="1.5"/>
<line x1="1162.5" y1="366.54" x2="1162.5" y2="473.04" stroke="rgba(0,0,0,0.045)" stroke-width="1.5"/>
<line x1="1286.67" y1="366.54" x2="1286.67" y2="473.04" stroke="rgba(0,0,0,0.045)" stroke-width="1.5"/>
<polyline points="1162.5,468.33 1180.24,467.08 1197.98,463.33 1215.71,455.83 1233.45,438.17 1251.19,409.58 1268.93,389.58 1286.67,377.08" fill="none" stroke="#BC3C29" stroke-width="3.9" stroke-linejoin="round" stroke-linecap="butt"/>
<polyline points="1162.5,468.33 1180.24,467.08 1197.98,463.33 1215.71,455.83 1233.45,438.25 1251.19,409.83 1268.93,389.83 1286.67,377.5" fill="none" stroke="#0072B5" stroke-width="3.9" stroke-linejoin="round" stroke-linecap="butt"/>
<polyline points="1162.5,468.33 1180.24,467.08 1197.98,463.33 1215.71,455.83 1233.45,437.5 1251.19,407.5 1268.93,386.67 1286.67,371.67" fill="none" stroke="#E18727" stroke-width="3.9" stroke-linejoin="round" stroke-linecap="butt"/>
<polyline points="1162.5,468.33 1180.24,467.08 1197.98,463.33 1215.71,455.83 1233.45,438.33 1251.19,410 1268.93,390 1286.67,377.92" fill="none" stroke="#20854E" stroke-width="3.9" stroke-linejoin="round" stroke-linecap="butt"/>
<rect x="1157.3" y="366.54" width="135.6" height="106.5" fill="none" stroke="#574657" stroke-width="1.5"/>
<line x1="1151.5" y1="415.67" x2="1156.8" y2="415.67" stroke="#333333" stroke-width="1.9"/>
<text class="tk" x="1146" y="422.87" text-anchor="end">300</text>
<line x1="1151.5" y1="468.75" x2="1156.8" y2="468.75" stroke="#333333" stroke-width="1.9"/>
<text class="tk" x="1146" y="475.95" text-anchor="end">0</text>
<line x1="1162.5" y1="473.54" x2="1162.5" y2="478.84" stroke="#333333" stroke-width="1.9"/>
<text class="tk" x="1162.5" y="497.44" text-anchor="middle">2020s</text>
<line x1="1286.67" y1="473.54" x2="1286.67" y2="478.84" stroke="#333333" stroke-width="1.9"/>
<text class="tk" x="1286.67" y="497.44" text-anchor="middle">2090s</text>
<text class="st" x="1225.1" y="359.04" text-anchor="middle">MED</text>
</g>
<g>
<rect x="1343" y="366.54" width="135.6" height="106.5" fill="#B08EAF"/>
<line x1="1343" y1="379.38" x2="1478.6" y2="379.38" stroke="rgba(0,0,0,0.045)" stroke-width="1.0"/>
<line x1="1343" y1="438.96" x2="1478.6" y2="438.96" stroke="rgba(0,0,0,0.045)" stroke-width="1.0"/>
<line x1="1410.25" y1="366.54" x2="1410.25" y2="473.04" stroke="rgba(0,0,0,0.045)" stroke-width="1.0"/>
<line x1="1343" y1="409.17" x2="1478.6" y2="409.17" stroke="rgba(0,0,0,0.045)" stroke-width="1.5"/>
<line x1="1343" y1="468.75" x2="1478.6" y2="468.75" stroke="rgba(0,0,0,0.045)" stroke-width="1.5"/>
<line x1="1348.08" y1="366.54" x2="1348.08" y2="473.04" stroke="rgba(0,0,0,0.045)" stroke-width="1.5"/>
<line x1="1472.42" y1="366.54" x2="1472.42" y2="473.04" stroke="rgba(0,0,0,0.045)" stroke-width="1.5"/>
<polyline points="1348.08,468.75 1365.85,468.33 1383.61,465.83 1401.37,460 1419.13,442.08 1436.89,421.67 1454.65,403.33 1472.42,392.5" fill="none" stroke="#BC3C29" stroke-width="3.9" stroke-linejoin="round" stroke-linecap="butt"/>
<polyline points="1348.08,468.75 1365.85,468.33 1383.61,465.83 1401.37,459.58 1419.13,440.42 1436.89,416.67 1454.65,396.67 1472.42,385" fill="none" stroke="#0072B5" stroke-width="3.9" stroke-linejoin="round" stroke-linecap="butt"/>
<polyline points="1348.08,468.75 1365.85,468.33 1383.61,465.83 1401.37,459.67 1419.13,440.17 1436.89,414.83 1454.65,391 1472.42,373.75" fill="none" stroke="#E18727" stroke-width="3.9" stroke-linejoin="round" stroke-linecap="butt"/>
<polyline points="1348.08,468.75 1365.85,468.33 1383.61,465.83 1401.37,459.58 1419.13,440 1436.89,414.17 1454.65,390 1472.42,372.5" fill="none" stroke="#20854E" stroke-width="3.9" stroke-linejoin="round" stroke-linecap="butt"/>
<rect x="1343" y="366.54" width="135.6" height="106.5" fill="none" stroke="#574657" stroke-width="1.5"/>
<line x1="1337.2" y1="409.17" x2="1342.5" y2="409.17" stroke="#333333" stroke-width="1.9"/>
<text class="tk" x="1331.7" y="416.37" text-anchor="end">400</text>
<line x1="1337.2" y1="468.75" x2="1342.5" y2="468.75" stroke="#333333" stroke-width="1.9"/>
<text class="tk" x="1331.7" y="475.95" text-anchor="end">0</text>
<line x1="1348.08" y1="473.54" x2="1348.08" y2="478.84" stroke="#333333" stroke-width="1.9"/>
<text class="tk" x="1348.08" y="497.44" text-anchor="middle">2020s</text>
<line x1="1472.42" y1="473.54" x2="1472.42" y2="478.84" stroke="#333333" stroke-width="1.9"/>
<text class="tk" x="1472.42" y="497.44" text-anchor="middle">2090s</text>
<text class="st" x="1410.8" y="359.04" text-anchor="middle">WCA</text>
</g>
<g>
<rect x="1539.4" y="366.54" width="135.6" height="106.5" fill="#F7E2AB"/>
<line x1="1539.4" y1="391.62" x2="1675" y2="391.62" stroke="rgba(0,0,0,0.045)" stroke-width="1.0"/>
<line x1="1539.4" y1="443.04" x2="1675" y2="443.04" stroke="rgba(0,0,0,0.045)" stroke-width="1.0"/>
<line x1="1606.79" y1="366.54" x2="1606.79" y2="473.04" stroke="rgba(0,0,0,0.045)" stroke-width="1.0"/>
<line x1="1539.4" y1="417.33" x2="1675" y2="417.33" stroke="rgba(0,0,0,0.045)" stroke-width="1.5"/>
<line x1="1539.4" y1="468.75" x2="1675" y2="468.75" stroke="rgba(0,0,0,0.045)" stroke-width="1.5"/>
<line x1="1544.5" y1="366.54" x2="1544.5" y2="473.04" stroke="rgba(0,0,0,0.045)" stroke-width="1.5"/>
<line x1="1669.08" y1="366.54" x2="1669.08" y2="473.04" stroke="rgba(0,0,0,0.045)" stroke-width="1.5"/>
<polyline points="1544.5,468.33 1562.3,467.08 1580.1,462.5 1597.89,451.67 1615.69,436.67 1633.49,415 1651.29,396.67 1669.08,372.08" fill="none" stroke="#BC3C29" stroke-width="3.9" stroke-linejoin="round" stroke-linecap="butt"/>
<polyline points="1544.5,468.33 1562.3,467.08 1580.1,462.92 1597.89,456.25 1615.69,447.92 1633.49,439.17 1651.29,433.33 1669.08,425.83" fill="none" stroke="#0072B5" stroke-width="3.9" stroke-linejoin="round" stroke-linecap="butt"/>
<polyline points="1544.5,468.33 1562.3,467.25 1580.1,463.33 1597.89,460 1615.69,455.83 1633.49,449.58 1651.29,446.67 1669.08,442.5" fill="none" stroke="#E18727" stroke-width="3.9" stroke-linejoin="round" stroke-linecap="butt"/>
<polyline points="1544.5,468.33 1562.3,467.08 1580.1,462.92 1597.89,456.67 1615.69,449.17 1633.49,441.25 1651.29,435.83 1669.08,430" fill="none" stroke="#20854E" stroke-width="3.9" stroke-linejoin="round" stroke-linecap="butt"/>
<rect x="1539.4" y="366.54" width="135.6" height="106.5" fill="none" stroke="#6A5C40" stroke-width="1.5"/>
<line x1="1533.6" y1="417.33" x2="1538.9" y2="417.33" stroke="#333333" stroke-width="1.9"/>
<text class="tk" x="1528.1" y="424.53" text-anchor="end">40</text>
<line x1="1533.6" y1="468.75" x2="1538.9" y2="468.75" stroke="#333333" stroke-width="1.9"/>
<text class="tk" x="1528.1" y="475.95" text-anchor="end">0</text>
<line x1="1544.5" y1="473.54" x2="1544.5" y2="478.84" stroke="#333333" stroke-width="1.9"/>
<text class="tk" x="1544.5" y="497.44" text-anchor="middle">2020s</text>
<line x1="1669.08" y1="473.54" x2="1669.08" y2="478.84" stroke="#333333" stroke-width="1.9"/>
<text class="tk" x="1669.08" y="497.44" text-anchor="middle">2090s</text>
<text class="st" x="1607.2" y="359.04" text-anchor="middle">ECA</text>
</g>
<g>
<rect x="1725.1" y="366.54" width="135.6" height="106.5" fill="#FDC2BE"/>
<line x1="1725.1" y1="402.92" x2="1860.7" y2="402.92" stroke="rgba(0,0,0,0.045)" stroke-width="1.0"/>
<line x1="1725.1" y1="446.88" x2="1860.7" y2="446.88" stroke="rgba(0,0,0,0.045)" stroke-width="1.0"/>
<line x1="1792.25" y1="366.54" x2="1792.25" y2="473.04" stroke="rgba(0,0,0,0.045)" stroke-width="1.0"/>
<line x1="1725.1" y1="380.83" x2="1860.7" y2="380.83" stroke="rgba(0,0,0,0.045)" stroke-width="1.5"/>
<line x1="1725.1" y1="425" x2="1860.7" y2="425" stroke="rgba(0,0,0,0.045)" stroke-width="1.5"/>
<line x1="1725.1" y1="468.75" x2="1860.7" y2="468.75" stroke="rgba(0,0,0,0.045)" stroke-width="1.5"/>
<line x1="1730.08" y1="366.54" x2="1730.08" y2="473.04" stroke="rgba(0,0,0,0.045)" stroke-width="1.5"/>
<line x1="1854.42" y1="366.54" x2="1854.42" y2="473.04" stroke="rgba(0,0,0,0.045)" stroke-width="1.5"/>
<polyline points="1730.08,468.33 1747.85,468.33 1765.61,467.08 1783.37,458.33 1801.13,441.25 1818.89,426.67 1836.65,410.83 1854.42,398.75" fill="none" stroke="#BC3C29" stroke-width="3.9" stroke-linejoin="round" stroke-linecap="butt"/>
<polyline points="1730.08,468.33 1747.85,468.33 1765.61,467.08 1783.37,458.75 1801.13,442.5 1818.89,431.67 1836.65,416.67 1854.42,404.17" fill="none" stroke="#0072B5" stroke-width="3.9" stroke-linejoin="round" stroke-linecap="butt"/>
<polyline points="1730.08,468.33 1747.85,468.33 1765.61,467.08 1783.37,458.17 1801.13,440 1818.89,423.33 1836.65,403.33 1854.42,385" fill="none" stroke="#E18727" stroke-width="3.9" stroke-linejoin="round" stroke-linecap="butt"/>
<polyline points="1730.08,468.33 1747.85,468.33 1765.61,467.08 1783.37,457.92 1801.13,439.17 1818.89,420 1836.65,395 1854.42,372.5" fill="none" stroke="#20854E" stroke-width="3.9" stroke-linejoin="round" stroke-linecap="butt"/>
<rect x="1725.1" y="366.54" width="135.6" height="106.5" fill="none" stroke="#6C4F55" stroke-width="1.5"/>
<line x1="1719.3" y1="380.83" x2="1724.6" y2="380.83" stroke="#333333" stroke-width="1.9"/>
<text class="tk" x="1713.8" y="388.03" text-anchor="end">100</text>
<line x1="1719.3" y1="425" x2="1724.6" y2="425" stroke="#333333" stroke-width="1.9"/>
<text class="tk" x="1713.8" y="432.2" text-anchor="end">50</text>
<line x1="1719.3" y1="468.75" x2="1724.6" y2="468.75" stroke="#333333" stroke-width="1.9"/>
<text class="tk" x="1713.8" y="475.95" text-anchor="end">0</text>
<line x1="1730.08" y1="473.54" x2="1730.08" y2="478.84" stroke="#333333" stroke-width="1.9"/>
<text class="tk" x="1730.08" y="497.44" text-anchor="middle">2020s</text>
<line x1="1854.42" y1="473.54" x2="1854.42" y2="478.84" stroke="#333333" stroke-width="1.9"/>
<text class="tk" x="1854.42" y="497.44" text-anchor="middle">2090s</text>
<text class="st" x="1792.9" y="359.04" text-anchor="middle">TIB</text>
</g>
<g>
<rect x="1910.5" y="366.54" width="135.6" height="106.5" fill="#B08EAF"/>
<line x1="1910.5" y1="381.25" x2="2046.1" y2="381.25" stroke="rgba(0,0,0,0.045)" stroke-width="1.0"/>
<line x1="1910.5" y1="439.58" x2="2046.1" y2="439.58" stroke="rgba(0,0,0,0.045)" stroke-width="1.0"/>
<line x1="1977.88" y1="366.54" x2="1977.88" y2="473.04" stroke="rgba(0,0,0,0.045)" stroke-width="1.0"/>
<line x1="1910.5" y1="410.42" x2="2046.1" y2="410.42" stroke="rgba(0,0,0,0.045)" stroke-width="1.5"/>
<line x1="1910.5" y1="468.75" x2="2046.1" y2="468.75" stroke="rgba(0,0,0,0.045)" stroke-width="1.5"/>
<line x1="1915.67" y1="366.54" x2="1915.67" y2="473.04" stroke="rgba(0,0,0,0.045)" stroke-width="1.5"/>
<line x1="2040.08" y1="366.54" x2="2040.08" y2="473.04" stroke="rgba(0,0,0,0.045)" stroke-width="1.5"/>
<polyline points="1915.67,468.33 1933.44,466.67 1951.21,462.08 1968.99,452.5 1986.76,440 2004.54,416.67 2022.31,396.67 2040.08,372.5" fill="none" stroke="#BC3C29" stroke-width="3.9" stroke-linejoin="round" stroke-linecap="butt"/>
<polyline points="1915.67,468.33 1933.44,466.67 1951.21,462.08 1968.99,453.33 1986.76,444.17 2004.54,433.33 2022.31,426.67 2040.08,414.17" fill="none" stroke="#0072B5" stroke-width="3.9" stroke-linejoin="round" stroke-linecap="butt"/>
<polyline points="1915.67,468.5 1933.44,467.08 1951.21,462.67 1968.99,455 1986.76,447.08 2004.54,437.08 2022.31,430.83 2040.08,420" fill="none" stroke="#E18727" stroke-width="3.9" stroke-linejoin="round" stroke-linecap="butt"/>
<polyline points="1915.67,468.33 1933.44,466.83 1951.21,462.33 1968.99,454.17 1986.76,445.83 2004.54,435.42 2022.31,429.17 2040.08,417.5" fill="none" stroke="#20854E" stroke-width="3.9" stroke-linejoin="round" stroke-linecap="butt"/>
<rect x="1910.5" y="366.54" width="135.6" height="106.5" fill="none" stroke="#574657" stroke-width="1.5"/>
<line x1="1904.7" y1="410.42" x2="1910" y2="410.42" stroke="#333333" stroke-width="1.9"/>
<text class="tk" x="1899.2" y="417.62" text-anchor="end">400</text>
<line x1="1904.7" y1="468.75" x2="1910" y2="468.75" stroke="#333333" stroke-width="1.9"/>
<text class="tk" x="1899.2" y="475.95" text-anchor="end">0</text>
<line x1="1915.67" y1="473.54" x2="1915.67" y2="478.84" stroke="#333333" stroke-width="1.9"/>
<text class="tk" x="1915.67" y="497.44" text-anchor="middle">2020s</text>
<line x1="2040.08" y1="473.54" x2="2040.08" y2="478.84" stroke="#333333" stroke-width="1.9"/>
<text class="tk" x="2040.08" y="497.44" text-anchor="middle">2090s</text>
<text class="st" x="1978.3" y="359.04" text-anchor="middle">EAS</text>
</g>
<g>
<rect x="254.8" y="535.31" width="135.6" height="106.5" fill="#FDC2BE"/>
<line x1="254.8" y1="549.88" x2="390.4" y2="549.88" stroke="rgba(0,0,0,0.045)" stroke-width="1.0"/>
<line x1="254.8" y1="585.29" x2="390.4" y2="585.29" stroke="rgba(0,0,0,0.045)" stroke-width="1.0"/>
<line x1="254.8" y1="620.71" x2="390.4" y2="620.71" stroke="rgba(0,0,0,0.045)" stroke-width="1.0"/>
<line x1="322.79" y1="535.31" x2="322.79" y2="641.81" stroke="rgba(0,0,0,0.045)" stroke-width="1.0"/>
<line x1="254.8" y1="567.58" x2="390.4" y2="567.58" stroke="rgba(0,0,0,0.045)" stroke-width="1.5"/>
<line x1="254.8" y1="603" x2="390.4" y2="603" stroke="rgba(0,0,0,0.045)" stroke-width="1.5"/>
<line x1="254.8" y1="638.42" x2="390.4" y2="638.42" stroke="rgba(0,0,0,0.045)" stroke-width="1.5"/>
<line x1="260.5" y1="535.31" x2="260.5" y2="641.81" stroke="rgba(0,0,0,0.045)" stroke-width="1.5"/>
<line x1="385.08" y1="535.31" x2="385.08" y2="641.81" stroke="rgba(0,0,0,0.045)" stroke-width="1.5"/>
<polyline points="260.5,637.17 278.3,635.08 296.1,631.75 313.89,623 331.69,608 349.49,596.33 367.29,586.33 385.08,576.33" fill="none" stroke="#BC3C29" stroke-width="3.9" stroke-linejoin="round" stroke-linecap="butt"/>
<polyline points="260.5,637.17 278.3,635.08 296.1,631.75 313.89,622.17 331.69,600.92 349.49,580.08 367.29,561.75 385.08,541.75" fill="none" stroke="#0072B5" stroke-width="3.9" stroke-linejoin="round" stroke-linecap="butt"/>
<polyline points="260.5,637.17 278.3,635.08 296.1,631.75 313.89,622.17 331.69,600.5 349.49,579.67 367.29,561.33 385.08,545.08" fill="none" stroke="#E18727" stroke-width="3.9" stroke-linejoin="round" stroke-linecap="butt"/>
<polyline points="260.5,637.17 278.3,635.08 296.1,631.75 313.89,622.17 331.69,601.33 349.49,581.33 367.29,563.83 385.08,550.5" fill="none" stroke="#20854E" stroke-width="3.9" stroke-linejoin="round" stroke-linecap="butt"/>
<rect x="254.8" y="535.31" width="135.6" height="106.5" fill="none" stroke="#6C4F55" stroke-width="1.5"/>
<line x1="249" y1="567.58" x2="254.3" y2="567.58" stroke="#333333" stroke-width="1.9"/>
<text class="tk" x="243.5" y="574.78" text-anchor="end">100</text>
<line x1="249" y1="603" x2="254.3" y2="603" stroke="#333333" stroke-width="1.9"/>
<text class="tk" x="243.5" y="610.2" text-anchor="end">50</text>
<line x1="249" y1="638.42" x2="254.3" y2="638.42" stroke="#333333" stroke-width="1.9"/>
<text class="tk" x="243.5" y="645.62" text-anchor="end">0</text>
<line x1="260.5" y1="642.31" x2="260.5" y2="647.61" stroke="#333333" stroke-width="1.9"/>
<text class="tk" x="260.5" y="666.21" text-anchor="middle">2020s</text>
<line x1="385.08" y1="642.31" x2="385.08" y2="647.61" stroke="#333333" stroke-width="1.9"/>
<text class="tk" x="385.08" y="666.21" text-anchor="middle">2090s</text>
<text class="st" x="322.6" y="527.81" text-anchor="middle">SCA</text>
</g>
<g>
<rect x="446" y="535.31" width="135.6" height="106.5" fill="#F7E2AB"/>
<line x1="446" y1="563.42" x2="581.6" y2="563.42" stroke="rgba(0,0,0,0.045)" stroke-width="1.0"/>
<line x1="446" y1="613" x2="581.6" y2="613" stroke="rgba(0,0,0,0.045)" stroke-width="1.0"/>
<line x1="513.88" y1="535.31" x2="513.88" y2="641.81" stroke="rgba(0,0,0,0.045)" stroke-width="1.0"/>
<line x1="446" y1="538.67" x2="581.6" y2="538.67" stroke="rgba(0,0,0,0.045)" stroke-width="1.5"/>
<line x1="446" y1="588.17" x2="581.6" y2="588.17" stroke="rgba(0,0,0,0.045)" stroke-width="1.5"/>
<line x1="446" y1="637.83" x2="581.6" y2="637.83" stroke="rgba(0,0,0,0.045)" stroke-width="1.5"/>
<line x1="451.67" y1="535.31" x2="451.67" y2="641.81" stroke="rgba(0,0,0,0.045)" stroke-width="1.5"/>
<line x1="576.08" y1="535.31" x2="576.08" y2="641.81" stroke="rgba(0,0,0,0.045)" stroke-width="1.5"/>
<polyline points="451.67,637.17 469.44,637.17 487.21,637.17 504.99,636.5 522.76,635.08 540.54,629.25 558.31,612.17 576.08,574.67" fill="none" stroke="#BC3C29" stroke-width="3.9" stroke-linejoin="round" stroke-linecap="butt"/>
<polyline points="451.67,637.17 469.44,637.17 487.21,637.17 504.99,636.75 522.76,637.17 540.54,633.83 558.31,608 576.08,541.75" fill="none" stroke="#0072B5" stroke-width="3.9" stroke-linejoin="round" stroke-linecap="butt"/>
<polyline points="451.67,637.17 469.44,637.17 487.21,637.17 504.99,636.75 522.76,636.33 540.54,631.33 558.31,616.33 576.08,579.67" fill="none" stroke="#E18727" stroke-width="3.9" stroke-linejoin="round" stroke-linecap="butt"/>
<polyline points="451.67,637.17 469.44,637.17 487.21,637.17 504.99,636.33 522.76,633.83 540.54,626.33 558.31,608 576.08,569.67" fill="none" stroke="#20854E" stroke-width="3.9" stroke-linejoin="round" stroke-linecap="butt"/>
<rect x="446" y="535.31" width="135.6" height="106.5" fill="none" stroke="#6A5C40" stroke-width="1.5"/>
<line x1="440.2" y1="538.67" x2="445.5" y2="538.67" stroke="#333333" stroke-width="1.9"/>
<text class="tk" x="434.7" y="545.87" text-anchor="end">6</text>
<line x1="440.2" y1="588.17" x2="445.5" y2="588.17" stroke="#333333" stroke-width="1.9"/>
<text class="tk" x="434.7" y="595.37" text-anchor="end">3</text>
<line x1="440.2" y1="637.83" x2="445.5" y2="637.83" stroke="#333333" stroke-width="1.9"/>
<text class="tk" x="434.7" y="645.03" text-anchor="end">0</text>
<line x1="451.67" y1="642.31" x2="451.67" y2="647.61" stroke="#333333" stroke-width="1.9"/>
<text class="tk" x="451.67" y="666.21" text-anchor="middle">2020s</text>
<line x1="576.08" y1="642.31" x2="576.08" y2="647.61" stroke="#333333" stroke-width="1.9"/>
<text class="tk" x="576.08" y="666.21" text-anchor="middle">2090s</text>
<text class="st" x="513.8" y="527.81" text-anchor="middle">CAR</text>
</g>
<g>
<rect x="971.3" y="535.31" width="135.6" height="106.5" fill="#FDC2BE"/>
<line x1="971.3" y1="538.08" x2="1106.9" y2="538.08" stroke="rgba(0,0,0,0.045)" stroke-width="1.0"/>
<line x1="971.3" y1="577.92" x2="1106.9" y2="577.92" stroke="rgba(0,0,0,0.045)" stroke-width="1.0"/>
<line x1="971.3" y1="617.71" x2="1106.9" y2="617.71" stroke="rgba(0,0,0,0.045)" stroke-width="1.0"/>
<line x1="1038.79" y1="535.31" x2="1038.79" y2="641.81" stroke="rgba(0,0,0,0.045)" stroke-width="1.0"/>
<line x1="971.3" y1="558" x2="1106.9" y2="558" stroke="rgba(0,0,0,0.045)" stroke-width="1.5"/>
<line x1="971.3" y1="597.83" x2="1106.9" y2="597.83" stroke="rgba(0,0,0,0.045)" stroke-width="1.5"/>
<line x1="971.3" y1="637.58" x2="1106.9" y2="637.58" stroke="rgba(0,0,0,0.045)" stroke-width="1.5"/>
<line x1="976.5" y1="535.31" x2="976.5" y2="641.81" stroke="rgba(0,0,0,0.045)" stroke-width="1.5"/>
<line x1="1101.08" y1="535.31" x2="1101.08" y2="641.81" stroke="rgba(0,0,0,0.045)" stroke-width="1.5"/>
<polyline points="976.5,637.33 994.3,636.92 1012.1,633.42 1029.89,625.92 1047.69,609.67 1065.49,591.33 1083.29,581.33 1101.08,578" fill="none" stroke="#BC3C29" stroke-width="3.9" stroke-linejoin="round" stroke-linecap="butt"/>
<polyline points="976.5,637.17 994.3,636.75 1012.1,633 1029.89,622.17 1047.69,601.33 1065.49,574.25 1083.29,553.83 1101.08,540.92" fill="none" stroke="#0072B5" stroke-width="3.9" stroke-linejoin="round" stroke-linecap="butt"/>
<polyline points="976.5,637.33 994.3,636.92 1012.1,633.42 1029.89,625.5 1047.69,608 1065.49,588 1083.29,575.5 1101.08,568.83" fill="none" stroke="#E18727" stroke-width="3.9" stroke-linejoin="round" stroke-linecap="butt"/>
<polyline points="976.5,637.17 994.3,636.75 1012.1,633 1029.89,622.17 1047.69,601.33 1065.49,574.67 1083.29,556.33 1101.08,548" fill="none" stroke="#20854E" stroke-width="3.9" stroke-linejoin="round" stroke-linecap="butt"/>
<rect x="971.3" y="535.31" width="135.6" height="106.5" fill="none" stroke="#6C4F55" stroke-width="1.5"/>
<line x1="965.5" y1="558" x2="970.8" y2="558" stroke="#333333" stroke-width="1.9"/>
<text class="tk" x="960" y="565.2" text-anchor="end">200</text>
<line x1="965.5" y1="597.83" x2="970.8" y2="597.83" stroke="#333333" stroke-width="1.9"/>
<text class="tk" x="960" y="605.03" text-anchor="end">100</text>
<line x1="965.5" y1="637.58" x2="970.8" y2="637.58" stroke="#333333" stroke-width="1.9"/>
<text class="tk" x="960" y="644.78" text-anchor="end">0</text>
<line x1="976.5" y1="642.31" x2="976.5" y2="647.61" stroke="#333333" stroke-width="1.9"/>
<text class="tk" x="976.5" y="666.21" text-anchor="middle">2020s</text>
<line x1="1101.08" y1="642.31" x2="1101.08" y2="647.61" stroke="#333333" stroke-width="1.9"/>
<text class="tk" x="1101.08" y="666.21" text-anchor="middle">2090s</text>
<text class="st" x="1039.1" y="527.81" text-anchor="middle">SAH</text>
</g>
<g>
<rect x="1157.3" y="535.31" width="135.6" height="106.5" fill="#FDC2BE"/>
<line x1="1157.3" y1="564.88" x2="1292.9" y2="564.88" stroke="rgba(0,0,0,0.045)" stroke-width="1.0"/>
<line x1="1157.3" y1="613.33" x2="1292.9" y2="613.33" stroke="rgba(0,0,0,0.045)" stroke-width="1.0"/>
<line x1="1224.5" y1="535.31" x2="1224.5" y2="641.81" stroke="rgba(0,0,0,0.045)" stroke-width="1.0"/>
<line x1="1157.3" y1="540.67" x2="1292.9" y2="540.67" stroke="rgba(0,0,0,0.045)" stroke-width="1.5"/>
<line x1="1157.3" y1="589.08" x2="1292.9" y2="589.08" stroke="rgba(0,0,0,0.045)" stroke-width="1.5"/>
<line x1="1157.3" y1="637.58" x2="1292.9" y2="637.58" stroke="rgba(0,0,0,0.045)" stroke-width="1.5"/>
<line x1="1162.33" y1="535.31" x2="1162.33" y2="641.81" stroke="rgba(0,0,0,0.045)" stroke-width="1.5"/>
<line x1="1286.67" y1="535.31" x2="1286.67" y2="641.81" stroke="rgba(0,0,0,0.045)" stroke-width="1.5"/>
<polyline points="1162.33,637.33 1180.1,637.33 1197.86,636.92 1215.62,631.33 1233.38,618.83 1251.14,598.83 1268.9,586.33 1286.67,580.08" fill="none" stroke="#BC3C29" stroke-width="3.9" stroke-linejoin="round" stroke-linecap="butt"/>
<polyline points="1162.33,637.17 1180.1,637.17 1197.86,636.75 1215.62,629.25 1233.38,613.83 1251.14,591.33 1268.9,574.67 1286.67,563" fill="none" stroke="#0072B5" stroke-width="3.9" stroke-linejoin="round" stroke-linecap="butt"/>
<polyline points="1162.33,637.17 1180.1,637.17 1197.86,636.75 1215.62,629 1233.38,612.58 1251.14,586.33 1268.9,563 1286.67,547.58" fill="none" stroke="#E18727" stroke-width="3.9" stroke-linejoin="round" stroke-linecap="butt"/>
<polyline points="1162.33,637.17 1180.1,637.17 1197.86,636.75 1215.62,628.83 1233.38,612.17 1251.14,585.5 1268.9,559.67 1286.67,540.92" fill="none" stroke="#20854E" stroke-width="3.9" stroke-linejoin="round" stroke-linecap="butt"/>
<rect x="1157.3" y="535.31" width="135.6" height="106.5" fill="none" stroke="#6C4F55" stroke-width="1.5"/>
<line x1="1151.5" y1="540.67" x2="1156.8" y2="540.67" stroke="#333333" stroke-width="1.9"/>
<text class="tk" x="1146" y="547.87" text-anchor="end">200</text>
<line x1="1151.5" y1="589.08" x2="1156.8" y2="589.08" stroke="#333333" stroke-width="1.9"/>
<text class="tk" x="1146" y="596.28" text-anchor="end">100</text>
<line x1="1151.5" y1="637.58" x2="1156.8" y2="637.58" stroke="#333333" stroke-width="1.9"/>
<text class="tk" x="1146" y="644.78" text-anchor="end">0</text>
<line x1="1162.33" y1="642.31" x2="1162.33" y2="647.61" stroke="#333333" stroke-width="1.9"/>
<text class="tk" x="1162.33" y="666.21" text-anchor="middle">2020s</text>
<line x1="1286.67" y1="642.31" x2="1286.67" y2="647.61" stroke="#333333" stroke-width="1.9"/>
<text class="tk" x="1286.67" y="666.21" text-anchor="middle">2090s</text>
<text class="st" x="1225.1" y="527.81" text-anchor="middle">ARP</text>
</g>
<g>
<rect x="1539.4" y="535.31" width="135.6" height="106.5" fill="#B08EAF"/>
<line x1="1539.4" y1="567.71" x2="1675" y2="567.71" stroke="rgba(0,0,0,0.045)" stroke-width="1.0"/>
<line x1="1539.4" y1="614.25" x2="1675" y2="614.25" stroke="rgba(0,0,0,0.045)" stroke-width="1.0"/>
<line x1="1606.88" y1="535.31" x2="1606.88" y2="641.81" stroke="rgba(0,0,0,0.045)" stroke-width="1.0"/>
<line x1="1539.4" y1="544.5" x2="1675" y2="544.5" stroke="rgba(0,0,0,0.045)" stroke-width="1.5"/>
<line x1="1539.4" y1="590.92" x2="1675" y2="590.92" stroke="rgba(0,0,0,0.045)" stroke-width="1.5"/>
<line x1="1539.4" y1="637.58" x2="1675" y2="637.58" stroke="rgba(0,0,0,0.045)" stroke-width="1.5"/>
<line x1="1544.67" y1="535.31" x2="1544.67" y2="641.81" stroke="rgba(0,0,0,0.045)" stroke-width="1.5"/>
<line x1="1669.08" y1="535.31" x2="1669.08" y2="641.81" stroke="rgba(0,0,0,0.045)" stroke-width="1.5"/>
<polyline points="1544.67,637.33 1562.44,637.33 1580.21,636.17 1597.99,630.08 1615.76,613.83 1633.54,593.83 1651.31,574.67 1669.08,561.75" fill="none" stroke="#BC3C29" stroke-width="3.9" stroke-linejoin="round" stroke-linecap="butt"/>
<polyline points="1544.67,637.17 1562.44,637.17 1580.21,635.92 1597.99,628.42 1615.76,610.08 1633.54,587.58 1651.31,565.5 1669.08,553.42" fill="none" stroke="#0072B5" stroke-width="3.9" stroke-linejoin="round" stroke-linecap="butt"/>
<polyline points="1544.67,637.17 1562.44,637.17 1580.21,635.92 1597.99,628.42 1615.76,609.25 1633.54,585.08 1651.31,560.92 1669.08,541.33" fill="none" stroke="#E18727" stroke-width="3.9" stroke-linejoin="round" stroke-linecap="butt"/>
<polyline points="1544.67,637.17 1562.44,637.17 1580.21,635.92 1597.99,628.42 1615.76,609.67 1633.54,586.33 1651.31,563 1669.08,545.92" fill="none" stroke="#20854E" stroke-width="3.9" stroke-linejoin="round" stroke-linecap="butt"/>
<rect x="1539.4" y="535.31" width="135.6" height="106.5" fill="none" stroke="#574657" stroke-width="1.5"/>
<line x1="1533.6" y1="544.5" x2="1538.9" y2="544.5" stroke="#333333" stroke-width="1.9"/>
<text class="tk" x="1528.1" y="551.7" text-anchor="end">2000</text>
<line x1="1533.6" y1="590.92" x2="1538.9" y2="590.92" stroke="#333333" stroke-width="1.9"/>
<text class="tk" x="1528.1" y="598.12" text-anchor="end">1000</text>
<line x1="1533.6" y1="637.58" x2="1538.9" y2="637.58" stroke="#333333" stroke-width="1.9"/>
<text class="tk" x="1528.1" y="644.78" text-anchor="end">0</text>
<line x1="1544.67" y1="642.31" x2="1544.67" y2="647.61" stroke="#333333" stroke-width="1.9"/>
<text class="tk" x="1544.67" y="666.21" text-anchor="middle">2020s</text>
<line x1="1669.08" y1="642.31" x2="1669.08" y2="647.61" stroke="#333333" stroke-width="1.9"/>
<text class="tk" x="1669.08" y="666.21" text-anchor="middle">2090s</text>
<text class="st" x="1607.2" y="527.81" text-anchor="middle">SAS</text>
</g>
<g>
<rect x="1910.5" y="535.31" width="135.6" height="106.5" fill="#B08EAF"/>
<line x1="1910.5" y1="567.17" x2="2046.1" y2="567.17" stroke="rgba(0,0,0,0.045)" stroke-width="1.0"/>
<line x1="1910.5" y1="614.67" x2="2046.1" y2="614.67" stroke="rgba(0,0,0,0.045)" stroke-width="1.0"/>
<line x1="1977.88" y1="535.31" x2="1977.88" y2="641.81" stroke="rgba(0,0,0,0.045)" stroke-width="1.0"/>
<line x1="1910.5" y1="543.42" x2="2046.1" y2="543.42" stroke="rgba(0,0,0,0.045)" stroke-width="1.5"/>
<line x1="1910.5" y1="590.92" x2="2046.1" y2="590.92" stroke="rgba(0,0,0,0.045)" stroke-width="1.5"/>
<line x1="1910.5" y1="638.42" x2="2046.1" y2="638.42" stroke="rgba(0,0,0,0.045)" stroke-width="1.5"/>
<line x1="1915.67" y1="535.31" x2="1915.67" y2="641.81" stroke="rgba(0,0,0,0.045)" stroke-width="1.5"/>
<line x1="2040.08" y1="535.31" x2="2040.08" y2="641.81" stroke="rgba(0,0,0,0.045)" stroke-width="1.5"/>
<polyline points="1915.67,637.25 1933.44,633.25 1951.21,627.75 1968.99,618.83 1986.76,603.42 2004.54,588 2022.31,573 2040.08,560.92" fill="none" stroke="#BC3C29" stroke-width="3.9" stroke-linejoin="round" stroke-linecap="butt"/>
<polyline points="1915.67,637.17 1933.44,633 1951.21,626.75 1968.99,614.67 1986.76,597.17 2004.54,578 2022.31,558.83 2040.08,540.92" fill="none" stroke="#0072B5" stroke-width="3.9" stroke-linejoin="round" stroke-linecap="butt"/>
<polyline points="1915.67,637.33 1933.44,633.42 1951.21,628 1968.99,619.67 1986.76,604.67 2004.54,589.67 2022.31,574.67 2040.08,563.83" fill="none" stroke="#E18727" stroke-width="3.9" stroke-linejoin="round" stroke-linecap="butt"/>
<polyline points="1915.67,637.17 1933.44,633.17 1951.21,627.58 1968.99,618 1986.76,602.17 2004.54,586.33 2022.31,571.33 2040.08,558" fill="none" stroke="#20854E" stroke-width="3.9" stroke-linejoin="round" stroke-linecap="butt"/>
<rect x="1910.5" y="535.31" width="135.6" height="106.5" fill="none" stroke="#574657" stroke-width="1.5"/>
<line x1="1904.7" y1="543.42" x2="1910" y2="543.42" stroke="#333333" stroke-width="1.9"/>
<text class="tk" x="1899.2" y="550.62" text-anchor="end">500</text>
<line x1="1904.7" y1="590.92" x2="1910" y2="590.92" stroke="#333333" stroke-width="1.9"/>
<text class="tk" x="1899.2" y="598.12" text-anchor="end">250</text>
<line x1="1904.7" y1="638.42" x2="1910" y2="638.42" stroke="#333333" stroke-width="1.9"/>
<text class="tk" x="1899.2" y="645.62" text-anchor="end">0</text>
<line x1="1915.67" y1="642.31" x2="1915.67" y2="647.61" stroke="#333333" stroke-width="1.9"/>
<text class="tk" x="1915.67" y="666.21" text-anchor="middle">2020s</text>
<line x1="2040.08" y1="642.31" x2="2040.08" y2="647.61" stroke="#333333" stroke-width="1.9"/>
<text class="tk" x="2040.08" y="666.21" text-anchor="middle">2090s</text>
<text class="st" x="1978.3" y="527.81" text-anchor="middle">SEA</text>
</g>
<g>
<rect x="254.8" y="704.08" width="135.6" height="106.5" fill="#FDC2BE"/>
<line x1="254.8" y1="736.58" x2="390.4" y2="736.58" stroke="rgba(0,0,0,0.045)" stroke-width="1.0"/>
<line x1="254.8" y1="783.79" x2="390.4" y2="783.79" stroke="rgba(0,0,0,0.045)" stroke-width="1.0"/>
<line x1="322.79" y1="704.08" x2="322.79" y2="810.58" stroke="rgba(0,0,0,0.045)" stroke-width="1.0"/>
<line x1="254.8" y1="713" x2="390.4" y2="713" stroke="rgba(0,0,0,0.045)" stroke-width="1.5"/>
<line x1="254.8" y1="760.17" x2="390.4" y2="760.17" stroke="rgba(0,0,0,0.045)" stroke-width="1.5"/>
<line x1="254.8" y1="807.42" x2="390.4" y2="807.42" stroke="rgba(0,0,0,0.045)" stroke-width="1.5"/>
<line x1="260.5" y1="704.08" x2="260.5" y2="810.58" stroke="rgba(0,0,0,0.045)" stroke-width="1.5"/>
<line x1="385.08" y1="704.08" x2="385.08" y2="810.58" stroke="rgba(0,0,0,0.045)" stroke-width="1.5"/>
<polyline points="260.5,805.75 278.3,803.67 296.1,798.67 313.89,787 331.69,767.83 349.49,749.5 367.29,727.83 385.08,709.5" fill="none" stroke="#BC3C29" stroke-width="3.9" stroke-linejoin="round" stroke-linecap="butt"/>
<polyline points="260.5,805.75 278.3,803.67 296.1,798.83 313.89,788.67 331.69,772 349.49,755.33 367.29,736.17 385.08,719.5" fill="none" stroke="#0072B5" stroke-width="3.9" stroke-linejoin="round" stroke-linecap="butt"/>
<polyline points="260.5,805.75 278.3,803.67 296.1,798.67 313.89,787.42 331.69,768.67 349.49,750.33 367.29,728.67 385.08,710.33" fill="none" stroke="#E18727" stroke-width="3.9" stroke-linejoin="round" stroke-linecap="butt"/>
<polyline points="260.5,805.75 278.3,803.67 296.1,798.83 313.89,789.08 331.69,772.83 349.49,756.17 367.29,737.83 385.08,723.67" fill="none" stroke="#20854E" stroke-width="3.9" stroke-linejoin="round" stroke-linecap="butt"/>
<rect x="254.8" y="704.08" width="135.6" height="106.5" fill="none" stroke="#6C4F55" stroke-width="1.5"/>
<line x1="249" y1="713" x2="254.3" y2="713" stroke="#333333" stroke-width="1.9"/>
<text class="tk" x="243.5" y="720.2" text-anchor="end">60</text>
<line x1="249" y1="760.17" x2="254.3" y2="760.17" stroke="#333333" stroke-width="1.9"/>
<text class="tk" x="243.5" y="767.37" text-anchor="end">30</text>
<line x1="249" y1="807.42" x2="254.3" y2="807.42" stroke="#333333" stroke-width="1.9"/>
<text class="tk" x="243.5" y="814.62" text-anchor="end">0</text>
<line x1="260.5" y1="811.08" x2="260.5" y2="816.38" stroke="#333333" stroke-width="1.9"/>
<text class="tk" x="260.5" y="834.98" text-anchor="middle">2020s</text>
<line x1="385.08" y1="811.08" x2="385.08" y2="816.38" stroke="#333333" stroke-width="1.9"/>
<text class="tk" x="385.08" y="834.98" text-anchor="middle">2090s</text>
<text class="st" x="322.6" y="696.58" text-anchor="middle">NWS</text>
</g>
<g>
<rect x="446" y="704.08" width="135.6" height="106.5" fill="#F7E2AB"/>
<line x1="446" y1="721.46" x2="581.6" y2="721.46" stroke="rgba(0,0,0,0.045)" stroke-width="1.0"/>
<line x1="446" y1="778.38" x2="581.6" y2="778.38" stroke="rgba(0,0,0,0.045)" stroke-width="1.0"/>
<line x1="513.88" y1="704.08" x2="513.88" y2="810.58" stroke="rgba(0,0,0,0.045)" stroke-width="1.0"/>
<line x1="446" y1="749.92" x2="581.6" y2="749.92" stroke="rgba(0,0,0,0.045)" stroke-width="1.5"/>
<line x1="446" y1="806.83" x2="581.6" y2="806.83" stroke="rgba(0,0,0,0.045)" stroke-width="1.5"/>
<line x1="451.67" y1="704.08" x2="451.67" y2="810.58" stroke="rgba(0,0,0,0.045)" stroke-width="1.5"/>
<line x1="576.08" y1="704.08" x2="576.08" y2="810.58" stroke="rgba(0,0,0,0.045)" stroke-width="1.5"/>
<polyline points="451.67,805.75 469.44,803.25 487.21,799.08 504.99,789.5 522.76,767.83 540.54,745.33 558.31,725.33 576.08,709.5" fill="none" stroke="#BC3C29" stroke-width="3.9" stroke-linejoin="round" stroke-linecap="butt"/>
<polyline points="451.67,805.75 469.44,803.25 487.21,799.08 504.99,789.5 522.76,768.25 540.54,747 558.31,728.67 576.08,717.83" fill="none" stroke="#0072B5" stroke-width="3.9" stroke-linejoin="round" stroke-linecap="butt"/>
<polyline points="451.67,805.75 469.44,803.25 487.21,799.08 504.99,789.5 522.76,768.25 540.54,746.83 558.31,728.5 576.08,717.67" fill="none" stroke="#E18727" stroke-width="3.9" stroke-linejoin="round" stroke-linecap="butt"/>
<polyline points="451.67,805.75 469.44,803.25 487.21,799.08 504.99,789.92 522.76,771.17 540.54,752 558.31,740.33 576.08,732" fill="none" stroke="#20854E" stroke-width="3.9" stroke-linejoin="round" stroke-linecap="butt"/>
<rect x="446" y="704.08" width="135.6" height="106.5" fill="none" stroke="#6A5C40" stroke-width="1.5"/>
<line x1="440.2" y1="749.92" x2="445.5" y2="749.92" stroke="#333333" stroke-width="1.9"/>
<text class="tk" x="434.7" y="757.12" text-anchor="end">40</text>
<line x1="440.2" y1="806.83" x2="445.5" y2="806.83" stroke="#333333" stroke-width="1.9"/>
<text class="tk" x="434.7" y="814.03" text-anchor="end">0</text>
<line x1="451.67" y1="811.08" x2="451.67" y2="816.38" stroke="#333333" stroke-width="1.9"/>
<text class="tk" x="451.67" y="834.98" text-anchor="middle">2020s</text>
<line x1="576.08" y1="811.08" x2="576.08" y2="816.38" stroke="#333333" stroke-width="1.9"/>
<text class="tk" x="576.08" y="834.98" text-anchor="middle">2090s</text>
<text class="st" x="513.8" y="696.58" text-anchor="middle">NSA</text>
</g>
<g>
<rect x="971.3" y="704.08" width="135.6" height="106.5" fill="#B08EAF"/>
<line x1="971.3" y1="719.92" x2="1106.9" y2="719.92" stroke="rgba(0,0,0,0.045)" stroke-width="1.0"/>
<line x1="971.3" y1="777.42" x2="1106.9" y2="777.42" stroke="rgba(0,0,0,0.045)" stroke-width="1.0"/>
<line x1="1038.79" y1="704.08" x2="1038.79" y2="810.58" stroke="rgba(0,0,0,0.045)" stroke-width="1.0"/>
<line x1="971.3" y1="748.67" x2="1106.9" y2="748.67" stroke="rgba(0,0,0,0.045)" stroke-width="1.5"/>
<line x1="971.3" y1="806.17" x2="1106.9" y2="806.17" stroke="rgba(0,0,0,0.045)" stroke-width="1.5"/>
<line x1="976.5" y1="704.08" x2="976.5" y2="810.58" stroke="rgba(0,0,0,0.045)" stroke-width="1.5"/>
<line x1="1101.08" y1="704.08" x2="1101.08" y2="810.58" stroke="rgba(0,0,0,0.045)" stroke-width="1.5"/>
<polyline points="976.5,806.17 994.3,805.5 1012.1,804.08 1029.89,800.33 1047.69,796.17 1065.49,789.5 1083.29,784.5 1101.08,781.58" fill="none" stroke="#BC3C29" stroke-width="3.9" stroke-linejoin="round" stroke-linecap="butt"/>
<polyline points="976.5,806.17 994.3,805.33 1012.1,803.25 1029.89,797 1047.69,782.83 1065.49,757 1083.29,730.33 1101.08,709.92" fill="none" stroke="#0072B5" stroke-width="3.9" stroke-linejoin="round" stroke-linecap="butt"/>
<polyline points="976.5,806.17 994.3,805.33 1012.1,803.25 1029.89,797.33 1047.69,784.92 1065.49,764.5 1083.29,747.42 1101.08,736.17" fill="none" stroke="#E18727" stroke-width="3.9" stroke-linejoin="round" stroke-linecap="butt"/>
<polyline points="976.5,806.17 994.3,805.33 1012.1,803.25 1029.89,797.42 1047.69,785.33 1065.49,765.33 1083.29,748.67 1101.08,737.83" fill="none" stroke="#20854E" stroke-width="3.9" stroke-linejoin="round" stroke-linecap="butt"/>
<rect x="971.3" y="704.08" width="135.6" height="106.5" fill="none" stroke="#574657" stroke-width="1.5"/>
<line x1="965.5" y1="748.67" x2="970.8" y2="748.67" stroke="#333333" stroke-width="1.9"/>
<text class="tk" x="960" y="755.87" text-anchor="end">1000</text>
<line x1="965.5" y1="806.17" x2="970.8" y2="806.17" stroke="#333333" stroke-width="1.9"/>
<text class="tk" x="960" y="813.37" text-anchor="end">0</text>
<line x1="976.5" y1="811.08" x2="976.5" y2="816.38" stroke="#333333" stroke-width="1.9"/>
<text class="tk" x="976.5" y="834.98" text-anchor="middle">2020s</text>
<line x1="1101.08" y1="811.08" x2="1101.08" y2="816.38" stroke="#333333" stroke-width="1.9"/>
<text class="tk" x="1101.08" y="834.98" text-anchor="middle">2090s</text>
<text class="st" x="1039.1" y="696.58" text-anchor="middle">WAF</text>
</g>
<g>
<rect x="1157.3" y="704.08" width="135.6" height="106.5" fill="#FDC2BE"/>
<line x1="1157.3" y1="733.96" x2="1292.9" y2="733.96" stroke="rgba(0,0,0,0.045)" stroke-width="1.0"/>
<line x1="1157.3" y1="782" x2="1292.9" y2="782" stroke="rgba(0,0,0,0.045)" stroke-width="1.0"/>
<line x1="1224.5" y1="704.08" x2="1224.5" y2="810.58" stroke="rgba(0,0,0,0.045)" stroke-width="1.0"/>
<line x1="1157.3" y1="709.92" x2="1292.9" y2="709.92" stroke="rgba(0,0,0,0.045)" stroke-width="1.5"/>
<line x1="1157.3" y1="758" x2="1292.9" y2="758" stroke="rgba(0,0,0,0.045)" stroke-width="1.5"/>
<line x1="1157.3" y1="806" x2="1292.9" y2="806" stroke="rgba(0,0,0,0.045)" stroke-width="1.5"/>
<line x1="1162.33" y1="704.08" x2="1162.33" y2="810.58" stroke="rgba(0,0,0,0.045)" stroke-width="1.5"/>
<line x1="1286.67" y1="704.08" x2="1286.67" y2="810.58" stroke="rgba(0,0,0,0.045)" stroke-width="1.5"/>
<polyline points="1162.33,805.75 1180.1,805.75 1197.86,805.08 1215.62,799.92 1233.38,792.83 1251.14,781.17 1268.9,773.67 1286.67,766.17" fill="none" stroke="#BC3C29" stroke-width="3.9" stroke-linejoin="round" stroke-linecap="butt"/>
<polyline points="1162.33,805.75 1180.1,805.75 1197.86,804.92 1215.62,797 1233.38,783.67 1251.14,751.17 1268.9,726.17 1286.67,709.92" fill="none" stroke="#0072B5" stroke-width="3.9" stroke-linejoin="round" stroke-linecap="butt"/>
<polyline points="1162.33,805.75 1180.1,805.75 1197.86,804.92 1215.62,797.83 1233.38,787 1251.14,769.5 1268.9,755.33 1286.67,742.42" fill="none" stroke="#E18727" stroke-width="3.9" stroke-linejoin="round" stroke-linecap="butt"/>
<polyline points="1162.33,805.75 1180.1,805.75 1197.86,804.92 1215.62,798 1233.38,787.83 1251.14,771.17 1268.9,757.83 1286.67,749.08" fill="none" stroke="#20854E" stroke-width="3.9" stroke-linejoin="round" stroke-linecap="butt"/>
<rect x="1157.3" y="704.08" width="135.6" height="106.5" fill="none" stroke="#6C4F55" stroke-width="1.5"/>
<line x1="1151.5" y1="709.92" x2="1156.8" y2="709.92" stroke="#333333" stroke-width="1.9"/>
<text class="tk" x="1146" y="717.12" text-anchor="end">400</text>
<line x1="1151.5" y1="758" x2="1156.8" y2="758" stroke="#333333" stroke-width="1.9"/>
<text class="tk" x="1146" y="765.2" text-anchor="end">200</text>
<line x1="1151.5" y1="806" x2="1156.8" y2="806" stroke="#333333" stroke-width="1.9"/>
<text class="tk" x="1146" y="813.2" text-anchor="end">0</text>
<line x1="1162.33" y1="811.08" x2="1162.33" y2="816.38" stroke="#333333" stroke-width="1.9"/>
<text class="tk" x="1162.33" y="834.98" text-anchor="middle">2020s</text>
<line x1="1286.67" y1="811.08" x2="1286.67" y2="816.38" stroke="#333333" stroke-width="1.9"/>
<text class="tk" x="1286.67" y="834.98" text-anchor="middle">2090s</text>
<text class="st" x="1225.1" y="696.58" text-anchor="middle">CAF</text>
</g>
<g>
<rect x="1343" y="704.08" width="135.6" height="106.5" fill="#FDC2BE"/>
<line x1="1343" y1="740.08" x2="1478.6" y2="740.08" stroke="rgba(0,0,0,0.045)" stroke-width="1.0"/>
<line x1="1343" y1="784.08" x2="1478.6" y2="784.08" stroke="rgba(0,0,0,0.045)" stroke-width="1.0"/>
<line x1="1410.25" y1="704.08" x2="1410.25" y2="810.58" stroke="rgba(0,0,0,0.045)" stroke-width="1.0"/>
<line x1="1343" y1="718" x2="1478.6" y2="718" stroke="rgba(0,0,0,0.045)" stroke-width="1.5"/>
<line x1="1343" y1="762.17" x2="1478.6" y2="762.17" stroke="rgba(0,0,0,0.045)" stroke-width="1.5"/>
<line x1="1343" y1="806" x2="1478.6" y2="806" stroke="rgba(0,0,0,0.045)" stroke-width="1.5"/>
<line x1="1348.08" y1="704.08" x2="1348.08" y2="810.58" stroke="rgba(0,0,0,0.045)" stroke-width="1.5"/>
<line x1="1472.42" y1="704.08" x2="1472.42" y2="810.58" stroke="rgba(0,0,0,0.045)" stroke-width="1.5"/>
<polyline points="1348.08,805.75 1365.85,805.75 1383.61,803.83 1401.37,794.5 1419.13,784.5 1436.89,768.67 1454.65,758.67 1472.42,752" fill="none" stroke="#BC3C29" stroke-width="3.9" stroke-linejoin="round" stroke-linecap="butt"/>
<polyline points="1348.08,805.75 1365.85,805.75 1383.61,803.67 1401.37,792.75 1419.13,776.83 1436.89,747.83 1454.65,729.08 1472.42,713.67" fill="none" stroke="#0072B5" stroke-width="3.9" stroke-linejoin="round" stroke-linecap="butt"/>
<polyline points="1348.08,805.75 1365.85,805.75 1383.61,803.67 1401.37,792.67 1419.13,776.58 1436.89,747 1454.65,727.83 1472.42,709.5" fill="none" stroke="#E18727" stroke-width="3.9" stroke-linejoin="round" stroke-linecap="butt"/>
<polyline points="1348.08,805.75 1365.85,805.75 1383.61,803.67 1401.37,792.83 1419.13,777 1436.89,748.67 1454.65,730.33 1472.42,717" fill="none" stroke="#20854E" stroke-width="3.9" stroke-linejoin="round" stroke-linecap="butt"/>
<rect x="1343" y="704.08" width="135.6" height="106.5" fill="none" stroke="#6C4F55" stroke-width="1.5"/>
<line x1="1337.2" y1="718" x2="1342.5" y2="718" stroke="#333333" stroke-width="1.9"/>
<text class="tk" x="1331.7" y="725.2" text-anchor="end">200</text>
<line x1="1337.2" y1="762.17" x2="1342.5" y2="762.17" stroke="#333333" stroke-width="1.9"/>
<text class="tk" x="1331.7" y="769.37" text-anchor="end">100</text>
<line x1="1337.2" y1="806" x2="1342.5" y2="806" stroke="#333333" stroke-width="1.9"/>
<text class="tk" x="1331.7" y="813.2" text-anchor="end">0</text>
<line x1="1348.08" y1="811.08" x2="1348.08" y2="816.38" stroke="#333333" stroke-width="1.9"/>
<text class="tk" x="1348.08" y="834.98" text-anchor="middle">2020s</text>
<line x1="1472.42" y1="811.08" x2="1472.42" y2="816.38" stroke="#333333" stroke-width="1.9"/>
<text class="tk" x="1472.42" y="834.98" text-anchor="middle">2090s</text>
<text class="st" x="1410.8" y="696.58" text-anchor="middle">NEAF</text>
</g>
<g>
<rect x="446" y="872.85" width="135.6" height="106.5" fill="#FFFFD9"/>
<line x1="446" y1="899" x2="581.6" y2="899" stroke="rgba(0,0,0,0.045)" stroke-width="1.0"/>
<line x1="446" y1="949.54" x2="581.6" y2="949.54" stroke="rgba(0,0,0,0.045)" stroke-width="1.0"/>
<line x1="513.88" y1="872.85" x2="513.88" y2="979.35" stroke="rgba(0,0,0,0.045)" stroke-width="1.0"/>
<line x1="446" y1="873.67" x2="581.6" y2="873.67" stroke="rgba(0,0,0,0.045)" stroke-width="1.5"/>
<line x1="446" y1="924.33" x2="581.6" y2="924.33" stroke="rgba(0,0,0,0.045)" stroke-width="1.5"/>
<line x1="446" y1="974.75" x2="581.6" y2="974.75" stroke="rgba(0,0,0,0.045)" stroke-width="1.5"/>
<line x1="451.67" y1="872.85" x2="451.67" y2="979.35" stroke="rgba(0,0,0,0.045)" stroke-width="1.5"/>
<line x1="576.08" y1="872.85" x2="576.08" y2="979.35" stroke="rgba(0,0,0,0.045)" stroke-width="1.5"/>
<polyline points="451.67,974.33 469.44,971.83 487.21,969.33 504.99,958.5 522.76,941 540.54,919.33 558.31,898.5 576.08,878.5" fill="none" stroke="#BC3C29" stroke-width="3.9" stroke-linejoin="round" stroke-linecap="butt"/>
<polyline points="451.67,974.5 469.44,972.25 487.21,971.17 504.99,963.92 522.76,956 540.54,945.17 558.31,931 576.08,919.33" fill="none" stroke="#0072B5" stroke-width="3.9" stroke-linejoin="round" stroke-linecap="butt"/>
<polyline points="451.67,974.5 469.44,972.25 487.21,971.17 504.99,964.17 522.76,956.42 540.54,946.42 558.31,933.5 576.08,923.5" fill="none" stroke="#E18727" stroke-width="3.9" stroke-linejoin="round" stroke-linecap="butt"/>
<polyline points="451.67,974.5 469.44,972.25 487.21,971.17 504.99,964.33 522.76,956.83 540.54,947.67 558.31,937.67 576.08,928.5" fill="none" stroke="#20854E" stroke-width="3.9" stroke-linejoin="round" stroke-linecap="butt"/>
<rect x="446" y="872.85" width="135.6" height="106.5" fill="none" stroke="#66654E" stroke-width="1.5"/>
<line x1="440.2" y1="873.67" x2="445.5" y2="873.67" stroke="#333333" stroke-width="1.9"/>
<text class="tk" x="434.7" y="880.87" text-anchor="end">40</text>
<line x1="440.2" y1="924.33" x2="445.5" y2="924.33" stroke="#333333" stroke-width="1.9"/>
<text class="tk" x="434.7" y="931.53" text-anchor="end">20</text>
<line x1="440.2" y1="974.75" x2="445.5" y2="974.75" stroke="#333333" stroke-width="1.9"/>
<text class="tk" x="434.7" y="981.95" text-anchor="end">0</text>
<line x1="451.67" y1="979.85" x2="451.67" y2="985.15" stroke="#333333" stroke-width="1.9"/>
<text class="tk" x="451.67" y="1003.75" text-anchor="middle">2020s</text>
<line x1="576.08" y1="979.85" x2="576.08" y2="985.15" stroke="#333333" stroke-width="1.9"/>
<text class="tk" x="576.08" y="1003.75" text-anchor="middle">2090s</text>
<text class="st" x="513.8" y="865.35" text-anchor="middle">SAM</text>
</g>
<g>
<rect x="631.6" y="872.85" width="135.6" height="106.5" fill="#FDC2BE"/>
<line x1="631.6" y1="889.58" x2="767.2" y2="889.58" stroke="rgba(0,0,0,0.045)" stroke-width="1.0"/>
<line x1="631.6" y1="923.75" x2="767.2" y2="923.75" stroke="rgba(0,0,0,0.045)" stroke-width="1.0"/>
<line x1="631.6" y1="958.08" x2="767.2" y2="958.08" stroke="rgba(0,0,0,0.045)" stroke-width="1.0"/>
<line x1="699.38" y1="872.85" x2="699.38" y2="979.35" stroke="rgba(0,0,0,0.045)" stroke-width="1.0"/>
<line x1="631.6" y1="906.67" x2="767.2" y2="906.67" stroke="rgba(0,0,0,0.045)" stroke-width="1.5"/>
<line x1="631.6" y1="940.83" x2="767.2" y2="940.83" stroke="rgba(0,0,0,0.045)" stroke-width="1.5"/>
<line x1="631.6" y1="975.33" x2="767.2" y2="975.33" stroke="rgba(0,0,0,0.045)" stroke-width="1.5"/>
<line x1="637.33" y1="872.85" x2="637.33" y2="979.35" stroke="rgba(0,0,0,0.045)" stroke-width="1.5"/>
<line x1="761.42" y1="872.85" x2="761.42" y2="979.35" stroke="rgba(0,0,0,0.045)" stroke-width="1.5"/>
<polyline points="637.33,974.33 655.06,972.67 672.79,970.17 690.51,957.67 708.24,945.17 725.96,924.33 743.69,897.67 761.42,878.5" fill="none" stroke="#BC3C29" stroke-width="3.9" stroke-linejoin="round" stroke-linecap="butt"/>
<polyline points="637.33,974.33 655.06,972.67 672.79,970.17 690.51,957.67 708.24,946 725.96,928.5 743.69,911 761.42,898.5" fill="none" stroke="#0072B5" stroke-width="3.9" stroke-linejoin="round" stroke-linecap="butt"/>
<polyline points="637.33,974.33 655.06,972.67 672.79,970.33 690.51,958.5 708.24,948.5 725.96,933.5 743.69,921.83 761.42,914.33" fill="none" stroke="#E18727" stroke-width="3.9" stroke-linejoin="round" stroke-linecap="butt"/>
<polyline points="637.33,974.33 655.06,972.67 672.79,970.17 690.51,957.83 708.24,946.42 725.96,930.17 743.69,915.17 761.42,905.58" fill="none" stroke="#20854E" stroke-width="3.9" stroke-linejoin="round" stroke-linecap="butt"/>
<rect x="631.6" y="872.85" width="135.6" height="106.5" fill="none" stroke="#6C4F55" stroke-width="1.5"/>
<line x1="625.8" y1="906.67" x2="631.1" y2="906.67" stroke="#333333" stroke-width="1.9"/>
<text class="tk" x="620.3" y="913.87" text-anchor="end">100</text>
<line x1="625.8" y1="940.83" x2="631.1" y2="940.83" stroke="#333333" stroke-width="1.9"/>
<text class="tk" x="620.3" y="948.03" text-anchor="end">50</text>
<line x1="625.8" y1="975.33" x2="631.1" y2="975.33" stroke="#333333" stroke-width="1.9"/>
<text class="tk" x="620.3" y="982.53" text-anchor="end">0</text>
<line x1="637.33" y1="979.85" x2="637.33" y2="985.15" stroke="#333333" stroke-width="1.9"/>
<text class="tk" x="637.33" y="1003.75" text-anchor="middle">2020s</text>
<line x1="761.42" y1="979.85" x2="761.42" y2="985.15" stroke="#333333" stroke-width="1.9"/>
<text class="tk" x="761.42" y="1003.75" text-anchor="middle">2090s</text>
<text class="st" x="699.4" y="865.35" text-anchor="middle">NES</text>
</g>
<g>
<rect x="971.3" y="872.85" width="135.6" height="106.5" fill="#F7E2AB"/>
<line x1="971.3" y1="901.33" x2="1106.9" y2="901.33" stroke="rgba(0,0,0,0.045)" stroke-width="1.0"/>
<line x1="971.3" y1="950.5" x2="1106.9" y2="950.5" stroke="rgba(0,0,0,0.045)" stroke-width="1.0"/>
<line x1="1038.79" y1="872.85" x2="1038.79" y2="979.35" stroke="rgba(0,0,0,0.045)" stroke-width="1.0"/>
<line x1="971.3" y1="876.67" x2="1106.9" y2="876.67" stroke="rgba(0,0,0,0.045)" stroke-width="1.5"/>
<line x1="971.3" y1="926" x2="1106.9" y2="926" stroke="rgba(0,0,0,0.045)" stroke-width="1.5"/>
<line x1="971.3" y1="975" x2="1106.9" y2="975" stroke="rgba(0,0,0,0.045)" stroke-width="1.5"/>
<line x1="976.5" y1="872.85" x2="976.5" y2="979.35" stroke="rgba(0,0,0,0.045)" stroke-width="1.5"/>
<line x1="1101.08" y1="872.85" x2="1101.08" y2="979.35" stroke="rgba(0,0,0,0.045)" stroke-width="1.5"/>
<polyline points="976.5,974.75 994.3,973.5 1012.1,971.17 1029.89,966 1047.69,955 1065.49,935.58 1083.29,921 1101.08,906.83" fill="none" stroke="#BC3C29" stroke-width="3.9" stroke-linejoin="round" stroke-linecap="butt"/>
<polyline points="976.5,974.75 994.3,973.5 1012.1,971.42 1029.89,966.83 1047.69,956 1065.49,935.17 1083.29,916 1101.08,878.5" fill="none" stroke="#0072B5" stroke-width="3.9" stroke-linejoin="round" stroke-linecap="butt"/>
<polyline points="976.5,974.75 994.3,973.5 1012.1,971.17 1029.89,966 1047.69,954.75 1065.49,935.17 1083.29,920.17 1101.08,902.67" fill="none" stroke="#E18727" stroke-width="3.9" stroke-linejoin="round" stroke-linecap="butt"/>
<polyline points="976.5,974.75 994.3,973.67 1012.1,971.67 1029.89,967.67 1047.69,958.5 1065.49,938.5 1083.29,926.83 1101.08,916.83" fill="none" stroke="#20854E" stroke-width="3.9" stroke-linejoin="round" stroke-linecap="butt"/>
<rect x="971.3" y="872.85" width="135.6" height="106.5" fill="none" stroke="#6A5C40" stroke-width="1.5"/>
<line x1="965.5" y1="876.67" x2="970.8" y2="876.67" stroke="#333333" stroke-width="1.9"/>
<text class="tk" x="960" y="883.87" text-anchor="end">60</text>
<line x1="965.5" y1="926" x2="970.8" y2="926" stroke="#333333" stroke-width="1.9"/>
<text class="tk" x="960" y="933.2" text-anchor="end">30</text>
<line x1="965.5" y1="975" x2="970.8" y2="975" stroke="#333333" stroke-width="1.9"/>
<text class="tk" x="960" y="982.2" text-anchor="end">0</text>
<line x1="976.5" y1="979.85" x2="976.5" y2="985.15" stroke="#333333" stroke-width="1.9"/>
<text class="tk" x="976.5" y="1003.75" text-anchor="middle">2020s</text>
<line x1="1101.08" y1="979.85" x2="1101.08" y2="985.15" stroke="#333333" stroke-width="1.9"/>
<text class="tk" x="1101.08" y="1003.75" text-anchor="middle">2090s</text>
<text class="st" x="1039.1" y="865.35" text-anchor="middle">WSAF</text>
</g>
<g>
<rect x="1157.3" y="872.85" width="135.6" height="106.5" fill="#B08EAF"/>
<line x1="1157.3" y1="897.04" x2="1292.9" y2="897.04" stroke="rgba(0,0,0,0.045)" stroke-width="1.0"/>
<line x1="1157.3" y1="949.12" x2="1292.9" y2="949.12" stroke="rgba(0,0,0,0.045)" stroke-width="1.0"/>
<line x1="1224.5" y1="872.85" x2="1224.5" y2="979.35" stroke="rgba(0,0,0,0.045)" stroke-width="1.0"/>
<line x1="1157.3" y1="923.08" x2="1292.9" y2="923.08" stroke="rgba(0,0,0,0.045)" stroke-width="1.5"/>
<line x1="1157.3" y1="975.17" x2="1292.9" y2="975.17" stroke="rgba(0,0,0,0.045)" stroke-width="1.5"/>
<line x1="1162.33" y1="872.85" x2="1162.33" y2="979.35" stroke="rgba(0,0,0,0.045)" stroke-width="1.5"/>
<line x1="1286.67" y1="872.85" x2="1286.67" y2="979.35" stroke="rgba(0,0,0,0.045)" stroke-width="1.5"/>
<polyline points="1162.33,974.75 1180.1,974.5 1197.86,973.92 1215.62,972.25 1233.38,970.17 1251.14,965.58 1268.9,961 1286.67,956.83" fill="none" stroke="#BC3C29" stroke-width="3.9" stroke-linejoin="round" stroke-linecap="butt"/>
<polyline points="1162.33,974.75 1180.1,973.92 1197.86,972.25 1215.62,965.17 1233.38,955.17 1251.14,935.17 1268.9,909.33 1286.67,878.08" fill="none" stroke="#0072B5" stroke-width="3.9" stroke-linejoin="round" stroke-linecap="butt"/>
<polyline points="1162.33,974.75 1180.1,974.33 1197.86,973.08 1215.62,969.08 1233.38,961.42 1251.14,950.83 1268.9,940.17 1286.67,928.67" fill="none" stroke="#E18727" stroke-width="3.9" stroke-linejoin="round" stroke-linecap="butt"/>
<polyline points="1162.33,974.75 1180.1,974.33 1197.86,973.08 1215.62,968.92 1233.38,961 1251.14,950.17 1268.9,939.33 1286.67,927.67" fill="none" stroke="#20854E" stroke-width="3.9" stroke-linejoin="round" stroke-linecap="butt"/>
<rect x="1157.3" y="872.85" width="135.6" height="106.5" fill="none" stroke="#574657" stroke-width="1.5"/>
<line x1="1151.5" y1="923.08" x2="1156.8" y2="923.08" stroke="#333333" stroke-width="1.9"/>
<text class="tk" x="1146" y="930.28" text-anchor="end">300</text>
<line x1="1151.5" y1="975.17" x2="1156.8" y2="975.17" stroke="#333333" stroke-width="1.9"/>
<text class="tk" x="1146" y="982.37" text-anchor="end">0</text>
<line x1="1162.33" y1="979.85" x2="1162.33" y2="985.15" stroke="#333333" stroke-width="1.9"/>
<text class="tk" x="1162.33" y="1003.75" text-anchor="middle">2020s</text>
<line x1="1286.67" y1="979.85" x2="1286.67" y2="985.15" stroke="#333333" stroke-width="1.9"/>
<text class="tk" x="1286.67" y="1003.75" text-anchor="middle">2090s</text>
<text class="st" x="1225.1" y="865.35" text-anchor="middle">SEAF</text>
</g>
<g>
<rect x="1343" y="872.85" width="135.6" height="106.5" fill="#F7E2AB"/>
<line x1="1343" y1="889.17" x2="1478.6" y2="889.17" stroke="rgba(0,0,0,0.045)" stroke-width="1.0"/>
<line x1="1343" y1="946.5" x2="1478.6" y2="946.5" stroke="rgba(0,0,0,0.045)" stroke-width="1.0"/>
<line x1="1410.25" y1="872.85" x2="1410.25" y2="979.35" stroke="rgba(0,0,0,0.045)" stroke-width="1.0"/>
<line x1="1343" y1="917.83" x2="1478.6" y2="917.83" stroke="rgba(0,0,0,0.045)" stroke-width="1.5"/>
<line x1="1343" y1="975.17" x2="1478.6" y2="975.17" stroke="rgba(0,0,0,0.045)" stroke-width="1.5"/>
<line x1="1348.08" y1="872.85" x2="1348.08" y2="979.35" stroke="rgba(0,0,0,0.045)" stroke-width="1.5"/>
<line x1="1472.42" y1="872.85" x2="1472.42" y2="979.35" stroke="rgba(0,0,0,0.045)" stroke-width="1.5"/>
<polyline points="1348.08,974.75 1365.85,974.17 1383.61,973.08 1401.37,970.17 1419.13,966 1436.89,958.5 1454.65,952.67 1472.42,947.67" fill="none" stroke="#BC3C29" stroke-width="3.9" stroke-linejoin="round" stroke-linecap="butt"/>
<polyline points="1348.08,974.75 1365.85,973.92 1383.61,972.67 1401.37,966 1419.13,956.83 1436.89,934.33 1454.65,912.67 1472.42,878.5" fill="none" stroke="#0072B5" stroke-width="3.9" stroke-linejoin="round" stroke-linecap="butt"/>
<polyline points="1348.08,974.75 1365.85,973.92 1383.61,972.67 1401.37,966 1419.13,957.25 1436.89,936.83 1454.65,919.33 1472.42,903.5" fill="none" stroke="#E18727" stroke-width="3.9" stroke-linejoin="round" stroke-linecap="butt"/>
<polyline points="1348.08,974.75 1365.85,973.92 1383.61,972.67 1401.37,966 1419.13,957.67 1436.89,937.67 1454.65,921.83 1472.42,908.92" fill="none" stroke="#20854E" stroke-width="3.9" stroke-linejoin="round" stroke-linecap="butt"/>
<rect x="1343" y="872.85" width="135.6" height="106.5" fill="none" stroke="#6A5C40" stroke-width="1.5"/>
<line x1="1337.2" y1="917.83" x2="1342.5" y2="917.83" stroke="#333333" stroke-width="1.9"/>
<text class="tk" x="1331.7" y="925.03" text-anchor="end">25</text>
<line x1="1337.2" y1="975.17" x2="1342.5" y2="975.17" stroke="#333333" stroke-width="1.9"/>
<text class="tk" x="1331.7" y="982.37" text-anchor="end">0</text>
<line x1="1348.08" y1="979.85" x2="1348.08" y2="985.15" stroke="#333333" stroke-width="1.9"/>
<text class="tk" x="1348.08" y="1003.75" text-anchor="middle">2020s</text>
<line x1="1472.42" y1="979.85" x2="1472.42" y2="985.15" stroke="#333333" stroke-width="1.9"/>
<text class="tk" x="1472.42" y="1003.75" text-anchor="middle">2090s</text>
<text class="st" x="1410.8" y="865.35" text-anchor="middle">MDG</text>
</g>
<g>
<rect x="1910.5" y="872.85" width="135.6" height="106.5" fill="#F2F2F2"/>
<line x1="1910.5" y1="900.5" x2="2046.1" y2="900.5" stroke="rgba(0,0,0,0.045)" stroke-width="1.0"/>
<line x1="1910.5" y1="951.25" x2="2046.1" y2="951.25" stroke="rgba(0,0,0,0.045)" stroke-width="1.0"/>
<line x1="1977.88" y1="872.85" x2="1977.88" y2="979.35" stroke="rgba(0,0,0,0.045)" stroke-width="1.0"/>
<line x1="1910.5" y1="875.17" x2="2046.1" y2="875.17" stroke="rgba(0,0,0,0.045)" stroke-width="1.5"/>
<line x1="1910.5" y1="925.83" x2="2046.1" y2="925.83" stroke="rgba(0,0,0,0.045)" stroke-width="1.5"/>
<line x1="1910.5" y1="976.67" x2="2046.1" y2="976.67" stroke="rgba(0,0,0,0.045)" stroke-width="1.5"/>
<line x1="1915.67" y1="872.85" x2="1915.67" y2="979.35" stroke="rgba(0,0,0,0.045)" stroke-width="1.5"/>
<line x1="2040.08" y1="872.85" x2="2040.08" y2="979.35" stroke="rgba(0,0,0,0.045)" stroke-width="1.5"/>
<polyline points="1915.67,973.5 1933.44,969.75 1951.21,966.83 1968.99,955.58 1986.76,941 2004.54,927.67 2022.31,901 2040.08,878.08" fill="none" stroke="#BC3C29" stroke-width="3.9" stroke-linejoin="round" stroke-linecap="butt"/>
<polyline points="1915.67,974.17 1933.44,972.25 1951.21,971.83 1968.99,966.83 1986.76,963.08 2004.54,961 2022.31,957.67 2040.08,956.42" fill="none" stroke="#0072B5" stroke-width="3.9" stroke-linejoin="round" stroke-linecap="butt"/>
<polyline points="1915.67,973.92 1933.44,971.83 1951.21,970.58 1968.99,964.75 1986.76,960.17 2004.54,956.17 2022.31,951 2040.08,947.25" fill="none" stroke="#E18727" stroke-width="3.9" stroke-linejoin="round" stroke-linecap="butt"/>
<polyline points="1915.67,973.92 1933.44,971.83 1951.21,970.58 1968.99,964.75 1986.76,960.17 2004.54,956.42 2022.31,951.83 2040.08,948.92" fill="none" stroke="#20854E" stroke-width="3.9" stroke-linejoin="round" stroke-linecap="butt"/>
<rect x="1910.5" y="872.85" width="135.6" height="106.5" fill="none" stroke="#5C5C5C" stroke-width="1.5"/>
<line x1="1904.7" y1="875.17" x2="1910" y2="875.17" stroke="#333333" stroke-width="1.9"/>
<text class="tk" x="1899.2" y="882.37" text-anchor="end">2</text>
<line x1="1904.7" y1="925.83" x2="1910" y2="925.83" stroke="#333333" stroke-width="1.9"/>
<text class="tk" x="1899.2" y="933.03" text-anchor="end">1</text>
<line x1="1904.7" y1="976.67" x2="1910" y2="976.67" stroke="#333333" stroke-width="1.9"/>
<text class="tk" x="1899.2" y="983.87" text-anchor="end">0</text>
<line x1="1915.67" y1="979.85" x2="1915.67" y2="985.15" stroke="#333333" stroke-width="1.9"/>
<text class="tk" x="1915.67" y="1003.75" text-anchor="middle">2020s</text>
<line x1="2040.08" y1="979.85" x2="2040.08" y2="985.15" stroke="#333333" stroke-width="1.9"/>
<text class="tk" x="2040.08" y="1003.75" text-anchor="middle">2090s</text>
<text class="st" x="1978.3" y="865.35" text-anchor="middle">NAU</text>
</g>
<g>
<rect x="254.8" y="1041.62" width="135.6" height="106.5" fill="#FFFFD9"/>
<line x1="254.8" y1="1061.12" x2="390.4" y2="1061.12" stroke="rgba(0,0,0,0.045)" stroke-width="1.0"/>
<line x1="254.8" y1="1094.25" x2="390.4" y2="1094.25" stroke="rgba(0,0,0,0.045)" stroke-width="1.0"/>
<line x1="254.8" y1="1127.29" x2="390.4" y2="1127.29" stroke="rgba(0,0,0,0.045)" stroke-width="1.0"/>
<line x1="322.58" y1="1041.62" x2="322.58" y2="1148.12" stroke="rgba(0,0,0,0.045)" stroke-width="1.0"/>
<line x1="254.8" y1="1044.58" x2="390.4" y2="1044.58" stroke="rgba(0,0,0,0.045)" stroke-width="1.5"/>
<line x1="254.8" y1="1077.67" x2="390.4" y2="1077.67" stroke="rgba(0,0,0,0.045)" stroke-width="1.5"/>
<line x1="254.8" y1="1110.83" x2="390.4" y2="1110.83" stroke="rgba(0,0,0,0.045)" stroke-width="1.5"/>
<line x1="254.8" y1="1143.75" x2="390.4" y2="1143.75" stroke="rgba(0,0,0,0.045)" stroke-width="1.5"/>
<line x1="260.5" y1="1041.62" x2="260.5" y2="1148.12" stroke="rgba(0,0,0,0.045)" stroke-width="1.5"/>
<line x1="384.67" y1="1041.62" x2="384.67" y2="1148.12" stroke="rgba(0,0,0,0.045)" stroke-width="1.5"/>
<polyline points="260.5,1143.75 278.24,1143.75 295.98,1143.33 313.71,1141.25 331.45,1127.5 349.19,1111.67 366.93,1093.33 384.67,1059.17" fill="none" stroke="#BC3C29" stroke-width="3.9" stroke-linejoin="round" stroke-linecap="butt"/>
<polyline points="260.5,1143.75 278.24,1143.75 295.98,1143.33 313.71,1141.25 331.45,1126.67 349.19,1108.33 366.93,1089.17 384.67,1047.5" fill="none" stroke="#0072B5" stroke-width="3.9" stroke-linejoin="round" stroke-linecap="butt"/>
<polyline points="260.5,1143.75 278.24,1143.75 295.98,1143.33 313.71,1141.5 331.45,1130.83 349.19,1125 366.93,1116.67 384.67,1100" fill="none" stroke="#E18727" stroke-width="3.9" stroke-linejoin="round" stroke-linecap="butt"/>
<polyline points="260.5,1143.75 278.24,1143.75 295.98,1143.33 313.71,1141.5 331.45,1130 349.19,1120 366.93,1110.83 384.67,1087.08" fill="none" stroke="#20854E" stroke-width="3.9" stroke-linejoin="round" stroke-linecap="butt"/>
<rect x="254.8" y="1041.62" width="135.6" height="106.5" fill="none" stroke="#66654E" stroke-width="1.5"/>
<line x1="249" y1="1044.58" x2="254.3" y2="1044.58" stroke="#333333" stroke-width="1.9"/>
<text class="tk" x="243.5" y="1051.78" text-anchor="end">12</text>
<line x1="249" y1="1077.67" x2="254.3" y2="1077.67" stroke="#333333" stroke-width="1.9"/>
<text class="tk" x="243.5" y="1084.87" text-anchor="end">8</text>
<line x1="249" y1="1110.83" x2="254.3" y2="1110.83" stroke="#333333" stroke-width="1.9"/>
<text class="tk" x="243.5" y="1118.03" text-anchor="end">4</text>
<line x1="249" y1="1143.75" x2="254.3" y2="1143.75" stroke="#333333" stroke-width="1.9"/>
<text class="tk" x="243.5" y="1150.95" text-anchor="end">0</text>
<line x1="260.5" y1="1148.62" x2="260.5" y2="1153.92" stroke="#333333" stroke-width="1.9"/>
<text class="tk" x="260.5" y="1172.52" text-anchor="middle">2020s</text>
<line x1="384.67" y1="1148.62" x2="384.67" y2="1153.92" stroke="#333333" stroke-width="1.9"/>
<text class="tk" x="384.67" y="1172.52" text-anchor="middle">2090s</text>
<text class="st" x="322.6" y="1034.12" text-anchor="middle">SWS</text>
</g>
<g>
<rect x="446" y="1041.62" width="135.6" height="106.5" fill="#FDC2BE"/>
<line x1="446" y1="1051.79" x2="581.6" y2="1051.79" stroke="rgba(0,0,0,0.045)" stroke-width="1.0"/>
<line x1="446" y1="1089.04" x2="581.6" y2="1089.04" stroke="rgba(0,0,0,0.045)" stroke-width="1.0"/>
<line x1="446" y1="1126.12" x2="581.6" y2="1126.12" stroke="rgba(0,0,0,0.045)" stroke-width="1.0"/>
<line x1="513.88" y1="1041.62" x2="513.88" y2="1148.12" stroke="rgba(0,0,0,0.045)" stroke-width="1.0"/>
<line x1="446" y1="1070.42" x2="581.6" y2="1070.42" stroke="rgba(0,0,0,0.045)" stroke-width="1.5"/>
<line x1="446" y1="1107.67" x2="581.6" y2="1107.67" stroke="rgba(0,0,0,0.045)" stroke-width="1.5"/>
<line x1="446" y1="1144.58" x2="581.6" y2="1144.58" stroke="rgba(0,0,0,0.045)" stroke-width="1.5"/>
<line x1="451.67" y1="1041.62" x2="451.67" y2="1148.12" stroke="rgba(0,0,0,0.045)" stroke-width="1.5"/>
<line x1="576.08" y1="1041.62" x2="576.08" y2="1148.12" stroke="rgba(0,0,0,0.045)" stroke-width="1.5"/>
<polyline points="451.67,1143.33 469.44,1142.08 487.21,1138.75 504.99,1131.83 522.76,1119.58 540.54,1096.25 558.31,1084.17 576.08,1053.75" fill="none" stroke="#BC3C29" stroke-width="3.9" stroke-linejoin="round" stroke-linecap="butt"/>
<polyline points="451.67,1143.33 469.44,1142.08 487.21,1138.75 504.99,1131.67 522.76,1119.17 540.54,1095 558.31,1081.67 576.08,1047.5" fill="none" stroke="#0072B5" stroke-width="3.9" stroke-linejoin="round" stroke-linecap="butt"/>
<polyline points="451.67,1143.33 469.44,1142.08 487.21,1138.75 504.99,1131.92 522.76,1120 540.54,1097.92 558.31,1086.67 576.08,1061.67" fill="none" stroke="#E18727" stroke-width="3.9" stroke-linejoin="round" stroke-linecap="butt"/>
<polyline points="451.67,1143.33 469.44,1142.25 487.21,1139 504.99,1132.33 522.76,1120.83 540.54,1100.83 558.31,1090 576.08,1069.17" fill="none" stroke="#20854E" stroke-width="3.9" stroke-linejoin="round" stroke-linecap="butt"/>
<rect x="446" y="1041.62" width="135.6" height="106.5" fill="none" stroke="#6C4F55" stroke-width="1.5"/>
<line x1="440.2" y1="1070.42" x2="445.5" y2="1070.42" stroke="#333333" stroke-width="1.9"/>
<text class="tk" x="434.7" y="1077.62" text-anchor="end">100</text>
<line x1="440.2" y1="1107.67" x2="445.5" y2="1107.67" stroke="#333333" stroke-width="1.9"/>
<text class="tk" x="434.7" y="1114.87" text-anchor="end">50</text>
<line x1="440.2" y1="1144.58" x2="445.5" y2="1144.58" stroke="#333333" stroke-width="1.9"/>
<text class="tk" x="434.7" y="1151.78" text-anchor="end">0</text>
<line x1="451.67" y1="1148.62" x2="451.67" y2="1153.92" stroke="#333333" stroke-width="1.9"/>
<text class="tk" x="451.67" y="1172.52" text-anchor="middle">2020s</text>
<line x1="576.08" y1="1148.62" x2="576.08" y2="1153.92" stroke="#333333" stroke-width="1.9"/>
<text class="tk" x="576.08" y="1172.52" text-anchor="middle">2090s</text>
<text class="st" x="513.8" y="1034.12" text-anchor="middle">SES</text>
</g>
<g>
<rect x="1157.3" y="1041.62" width="135.6" height="106.5" fill="#FDC2BE"/>
<line x1="1157.3" y1="1066.62" x2="1292.9" y2="1066.62" stroke="rgba(0,0,0,0.045)" stroke-width="1.0"/>
<line x1="1157.3" y1="1118.04" x2="1292.9" y2="1118.04" stroke="rgba(0,0,0,0.045)" stroke-width="1.0"/>
<line x1="1224.5" y1="1041.62" x2="1224.5" y2="1148.12" stroke="rgba(0,0,0,0.045)" stroke-width="1.0"/>
<line x1="1157.3" y1="1092.33" x2="1292.9" y2="1092.33" stroke="rgba(0,0,0,0.045)" stroke-width="1.5"/>
<line x1="1157.3" y1="1143.75" x2="1292.9" y2="1143.75" stroke="rgba(0,0,0,0.045)" stroke-width="1.5"/>
<line x1="1162.33" y1="1041.62" x2="1162.33" y2="1148.12" stroke="rgba(0,0,0,0.045)" stroke-width="1.5"/>
<line x1="1286.67" y1="1041.62" x2="1286.67" y2="1148.12" stroke="rgba(0,0,0,0.045)" stroke-width="1.5"/>
<polyline points="1162.33,1143.33 1180.1,1141.83 1197.86,1139.58 1215.62,1137.5 1233.38,1130 1251.14,1122.5 1268.9,1117.5 1286.67,1112.92" fill="none" stroke="#BC3C29" stroke-width="3.9" stroke-linejoin="round" stroke-linecap="butt"/>
<polyline points="1162.33,1143.33 1180.1,1141.67 1197.86,1139.17 1215.62,1134.58 1233.38,1120.83 1251.14,1098.33 1268.9,1071.67 1286.67,1047.5" fill="none" stroke="#0072B5" stroke-width="3.9" stroke-linejoin="round" stroke-linecap="butt"/>
<polyline points="1162.33,1143.33 1180.1,1141.83 1197.86,1139.58 1215.62,1136.75 1233.38,1127.33 1251.14,1115.17 1268.9,1105 1286.67,1094.33" fill="none" stroke="#E18727" stroke-width="3.9" stroke-linejoin="round" stroke-linecap="butt"/>
<polyline points="1162.33,1143.33 1180.1,1141.83 1197.86,1139.58 1215.62,1136.67 1233.38,1127.08 1251.14,1114.58 1268.9,1104.17 1286.67,1093.33" fill="none" stroke="#20854E" stroke-width="3.9" stroke-linejoin="round" stroke-linecap="butt"/>
<rect x="1157.3" y="1041.62" width="135.6" height="106.5" fill="none" stroke="#6C4F55" stroke-width="1.5"/>
<line x1="1151.5" y1="1092.33" x2="1156.8" y2="1092.33" stroke="#333333" stroke-width="1.9"/>
<text class="tk" x="1146" y="1099.53" text-anchor="end">300</text>
<line x1="1151.5" y1="1143.75" x2="1156.8" y2="1143.75" stroke="#333333" stroke-width="1.9"/>
<text class="tk" x="1146" y="1150.95" text-anchor="end">0</text>
<line x1="1162.33" y1="1148.62" x2="1162.33" y2="1153.92" stroke="#333333" stroke-width="1.9"/>
<text class="tk" x="1162.33" y="1172.52" text-anchor="middle">2020s</text>
<line x1="1286.67" y1="1148.62" x2="1286.67" y2="1153.92" stroke="#333333" stroke-width="1.9"/>
<text class="tk" x="1286.67" y="1172.52" text-anchor="middle">2090s</text>
<text class="st" x="1225.1" y="1034.12" text-anchor="middle">ESAF</text>
</g>
<g>
<rect x="1910.5" y="1041.62" width="135.6" height="106.5" fill="#F2F2F2"/>
<line x1="1910.5" y1="1061.88" x2="2046.1" y2="1061.88" stroke="rgba(0,0,0,0.045)" stroke-width="1.0"/>
<line x1="1910.5" y1="1116.46" x2="2046.1" y2="1116.46" stroke="rgba(0,0,0,0.045)" stroke-width="1.0"/>
<line x1="1977.88" y1="1041.62" x2="1977.88" y2="1148.12" stroke="rgba(0,0,0,0.045)" stroke-width="1.0"/>
<line x1="1910.5" y1="1089.17" x2="2046.1" y2="1089.17" stroke="rgba(0,0,0,0.045)" stroke-width="1.5"/>
<line x1="1910.5" y1="1143.75" x2="2046.1" y2="1143.75" stroke="rgba(0,0,0,0.045)" stroke-width="1.5"/>
<line x1="1915.67" y1="1041.62" x2="1915.67" y2="1148.12" stroke="rgba(0,0,0,0.045)" stroke-width="1.5"/>
<line x1="2040.08" y1="1041.62" x2="2040.08" y2="1148.12" stroke="rgba(0,0,0,0.045)" stroke-width="1.5"/>
<polyline points="1915.67,1143.33 1933.44,1141.25 1951.21,1137.92 1968.99,1130.42 1986.76,1115.83 2004.54,1092.5 2022.31,1069.17 2040.08,1047.08" fill="none" stroke="#BC3C29" stroke-width="3.9" stroke-linejoin="round" stroke-linecap="butt"/>
<polyline points="1915.67,1143.75 1933.44,1142.67 1951.21,1141.67 1968.99,1140.83 1986.76,1140 2004.54,1140.42 2022.31,1139.58 2040.08,1139.33" fill="none" stroke="#0072B5" stroke-width="3.9" stroke-linejoin="round" stroke-linecap="butt"/>
<polyline points="1915.67,1143.75 1933.44,1142.5 1951.21,1141.25 1968.99,1140 1986.76,1138.33 2004.54,1137.92 2022.31,1136.67 2040.08,1137.08" fill="none" stroke="#E18727" stroke-width="3.9" stroke-linejoin="round" stroke-linecap="butt"/>
<polyline points="1915.67,1143.33 1933.44,1141.67 1951.21,1140.42 1968.99,1138.33 1986.76,1135.42 2004.54,1134.17 2022.31,1132.92 2040.08,1132.5" fill="none" stroke="#20854E" stroke-width="3.9" stroke-linejoin="round" stroke-linecap="butt"/>
<rect x="1910.5" y="1041.62" width="135.6" height="106.5" fill="none" stroke="#5C5C5C" stroke-width="1.5"/>
<line x1="1904.7" y1="1089.17" x2="1910" y2="1089.17" stroke="#333333" stroke-width="1.9"/>
<text class="tk" x="1899.2" y="1096.37" text-anchor="end">1</text>
<line x1="1904.7" y1="1143.75" x2="1910" y2="1143.75" stroke="#333333" stroke-width="1.9"/>
<text class="tk" x="1899.2" y="1150.95" text-anchor="end">0</text>
<line x1="1915.67" y1="1148.62" x2="1915.67" y2="1153.92" stroke="#333333" stroke-width="1.9"/>
<text class="tk" x="1915.67" y="1172.52" text-anchor="middle">2020s</text>
<line x1="2040.08" y1="1148.62" x2="2040.08" y2="1153.92" stroke="#333333" stroke-width="1.9"/>
<text class="tk" x="2040.08" y="1172.52" text-anchor="middle">2090s</text>
<text class="st" x="1978.3" y="1034.12" text-anchor="middle">CAU</text>
</g>
<g>
<rect x="2085.5" y="1041.62" width="135.6" height="106.5" fill="#FFFFD9"/>
<line x1="2085.5" y1="1067.58" x2="2221.1" y2="1067.58" stroke="rgba(0,0,0,0.045)" stroke-width="1.0"/>
<line x1="2085.5" y1="1119.17" x2="2221.1" y2="1119.17" stroke="rgba(0,0,0,0.045)" stroke-width="1.0"/>
<line x1="2152.96" y1="1041.62" x2="2152.96" y2="1148.12" stroke="rgba(0,0,0,0.045)" stroke-width="1.0"/>
<line x1="2085.5" y1="1041.83" x2="2221.1" y2="1041.83" stroke="rgba(0,0,0,0.045)" stroke-width="1.5"/>
<line x1="2085.5" y1="1093.33" x2="2221.1" y2="1093.33" stroke="rgba(0,0,0,0.045)" stroke-width="1.5"/>
<line x1="2085.5" y1="1145" x2="2221.1" y2="1145" stroke="rgba(0,0,0,0.045)" stroke-width="1.5"/>
<line x1="2090.67" y1="1041.62" x2="2090.67" y2="1148.12" stroke="rgba(0,0,0,0.045)" stroke-width="1.5"/>
<line x1="2215.25" y1="1041.62" x2="2215.25" y2="1148.12" stroke="rgba(0,0,0,0.045)" stroke-width="1.5"/>
<polyline points="2090.67,1142.92 2108.46,1138.33 2126.26,1132.08 2144.06,1124.17 2161.86,1109.17 2179.65,1085 2197.45,1066.67 2215.25,1047.08" fill="none" stroke="#BC3C29" stroke-width="3.9" stroke-linejoin="round" stroke-linecap="butt"/>
<polyline points="2090.67,1142.92 2108.46,1138.33 2126.26,1132.5 2144.06,1132.92 2161.86,1120.83 2179.65,1114.17 2197.45,1112.92 2215.25,1107.5" fill="none" stroke="#0072B5" stroke-width="3.9" stroke-linejoin="round" stroke-linecap="butt"/>
<polyline points="2090.67,1142.92 2108.46,1138.33 2126.26,1132.08 2144.06,1128.17 2161.86,1115.67 2179.65,1104.33 2197.45,1099.17 2215.25,1091.67" fill="none" stroke="#E18727" stroke-width="3.9" stroke-linejoin="round" stroke-linecap="butt"/>
<polyline points="2090.67,1142.92 2108.46,1138.33 2126.26,1132.08 2144.06,1128.33 2161.86,1115.83 2179.65,1104.17 2197.45,1098.33 2215.25,1090.42" fill="none" stroke="#20854E" stroke-width="3.9" stroke-linejoin="round" stroke-linecap="butt"/>
<rect x="2085.5" y="1041.62" width="135.6" height="106.5" fill="none" stroke="#66654E" stroke-width="1.5"/>
<line x1="2079.7" y1="1041.83" x2="2085" y2="1041.83" stroke="#333333" stroke-width="1.9"/>
<text class="tk" x="2074.2" y="1049.03" text-anchor="end">10</text>
<line x1="2079.7" y1="1093.33" x2="2085" y2="1093.33" stroke="#333333" stroke-width="1.9"/>
<text class="tk" x="2074.2" y="1100.53" text-anchor="end">5</text>
<line x1="2079.7" y1="1145" x2="2085" y2="1145" stroke="#333333" stroke-width="1.9"/>
<text class="tk" x="2074.2" y="1152.2" text-anchor="end">0</text>
<line x1="2090.67" y1="1148.62" x2="2090.67" y2="1153.92" stroke="#333333" stroke-width="1.9"/>
<text class="tk" x="2090.67" y="1172.52" text-anchor="middle">2020s</text>
<line x1="2215.25" y1="1148.62" x2="2215.25" y2="1153.92" stroke="#333333" stroke-width="1.9"/>
<text class="tk" x="2215.25" y="1172.52" text-anchor="middle">2090s</text>
<text class="st" x="2153.3" y="1034.12" text-anchor="middle">EAU</text>
</g>
<g>
<rect x="446" y="1210.39" width="135.6" height="106.5" fill="#F2F2F2"/>
<line x1="446" y1="1238.25" x2="581.6" y2="1238.25" stroke="rgba(0,0,0,0.045)" stroke-width="1.0"/>
<line x1="446" y1="1287.58" x2="581.6" y2="1287.58" stroke="rgba(0,0,0,0.045)" stroke-width="1.0"/>
<line x1="513.88" y1="1210.39" x2="513.88" y2="1316.89" stroke="rgba(0,0,0,0.045)" stroke-width="1.0"/>
<line x1="446" y1="1213.67" x2="581.6" y2="1213.67" stroke="rgba(0,0,0,0.045)" stroke-width="1.5"/>
<line x1="446" y1="1262.83" x2="581.6" y2="1262.83" stroke="rgba(0,0,0,0.045)" stroke-width="1.5"/>
<line x1="446" y1="1312.33" x2="581.6" y2="1312.33" stroke="rgba(0,0,0,0.045)" stroke-width="1.5"/>
<line x1="451.67" y1="1210.39" x2="451.67" y2="1316.89" stroke="rgba(0,0,0,0.045)" stroke-width="1.5"/>
<line x1="576.08" y1="1210.39" x2="576.08" y2="1316.89" stroke="rgba(0,0,0,0.045)" stroke-width="1.5"/>
<polyline points="451.67,1311.75 469.44,1310.33 487.21,1308 504.99,1300.92 522.76,1292.17 540.54,1273 558.31,1257.17 576.08,1218" fill="none" stroke="#BC3C29" stroke-width="3.9" stroke-linejoin="round" stroke-linecap="butt"/>
<polyline points="451.67,1312.17 469.44,1311.17 487.21,1310.08 504.99,1307.17 522.76,1303 540.54,1295.5 558.31,1286.33 576.08,1266.33" fill="none" stroke="#0072B5" stroke-width="3.9" stroke-linejoin="round" stroke-linecap="butt"/>
<polyline points="451.67,1312 469.44,1310.92 487.21,1309.67 504.99,1306.33 522.76,1300.5 540.54,1293 558.31,1284.67 576.08,1272.17" fill="none" stroke="#E18727" stroke-width="3.9" stroke-linejoin="round" stroke-linecap="butt"/>
<polyline points="451.67,1311.75 469.44,1310.08 487.21,1307.17 504.99,1298.42 522.76,1289.67 540.54,1269.67 558.31,1253.83 576.08,1216.75" fill="none" stroke="#20854E" stroke-width="3.9" stroke-linejoin="round" stroke-linecap="butt"/>
<rect x="446" y="1210.39" width="135.6" height="106.5" fill="none" stroke="#5C5C5C" stroke-width="1.5"/>
<line x1="440.2" y1="1213.67" x2="445.5" y2="1213.67" stroke="#333333" stroke-width="1.9"/>
<text class="tk" x="434.7" y="1220.87" text-anchor="end">0.50</text>
<line x1="440.2" y1="1262.83" x2="445.5" y2="1262.83" stroke="#333333" stroke-width="1.9"/>
<text class="tk" x="434.7" y="1270.03" text-anchor="end">0.25</text>
<line x1="440.2" y1="1312.33" x2="445.5" y2="1312.33" stroke="#333333" stroke-width="1.9"/>
<text class="tk" x="434.7" y="1319.53" text-anchor="end">0.00</text>
<line x1="451.67" y1="1317.39" x2="451.67" y2="1322.69" stroke="#333333" stroke-width="1.9"/>
<text class="tk" x="451.67" y="1341.29" text-anchor="middle">2020s</text>
<line x1="576.08" y1="1317.39" x2="576.08" y2="1322.69" stroke="#333333" stroke-width="1.9"/>
<text class="tk" x="576.08" y="1341.29" text-anchor="middle">2090s</text>
<text class="st" x="513.8" y="1202.89" text-anchor="middle">SSA</text>
</g>
<g>
<rect x="1910.5" y="1210.39" width="135.6" height="106.5" fill="#FFFFD9"/>
<line x1="1910.5" y1="1217.38" x2="2046.1" y2="1217.38" stroke="rgba(0,0,0,0.045)" stroke-width="1.0"/>
<line x1="1910.5" y1="1256.12" x2="2046.1" y2="1256.12" stroke="rgba(0,0,0,0.045)" stroke-width="1.0"/>
<line x1="1910.5" y1="1294.88" x2="2046.1" y2="1294.88" stroke="rgba(0,0,0,0.045)" stroke-width="1.0"/>
<line x1="1977.58" y1="1210.39" x2="1977.58" y2="1316.89" stroke="rgba(0,0,0,0.045)" stroke-width="1.0"/>
<line x1="1910.5" y1="1236.75" x2="2046.1" y2="1236.75" stroke="rgba(0,0,0,0.045)" stroke-width="1.5"/>
<line x1="1910.5" y1="1275.5" x2="2046.1" y2="1275.5" stroke="rgba(0,0,0,0.045)" stroke-width="1.5"/>
<line x1="1910.5" y1="1314.25" x2="2046.1" y2="1314.25" stroke="rgba(0,0,0,0.045)" stroke-width="1.5"/>
<line x1="1915.5" y1="1210.39" x2="1915.5" y2="1316.89" stroke="rgba(0,0,0,0.045)" stroke-width="1.5"/>
<line x1="2039.67" y1="1210.39" x2="2039.67" y2="1316.89" stroke="rgba(0,0,0,0.045)" stroke-width="1.5"/>
<polyline points="1915.5,1312.17 1933.24,1310.5 1950.98,1305.08 1968.71,1292.58 1986.45,1276.33 2004.19,1263 2021.93,1233.83 2039.67,1215.92" fill="none" stroke="#BC3C29" stroke-width="3.9" stroke-linejoin="round" stroke-linecap="butt"/>
<polyline points="1915.5,1312.33 1933.24,1310.67 1950.98,1305.92 1968.71,1298.83 1986.45,1293.83 2004.19,1291.33 2021.93,1283 2039.67,1282.17" fill="none" stroke="#0072B5" stroke-width="3.9" stroke-linejoin="round" stroke-linecap="butt"/>
<polyline points="1915.5,1312.17 1933.24,1310.5 1950.98,1305.5 1968.71,1297.33 1986.45,1290.67 2004.19,1285.67 2021.93,1272.58 2039.67,1268" fill="none" stroke="#E18727" stroke-width="3.9" stroke-linejoin="round" stroke-linecap="butt"/>
<polyline points="1915.5,1312.17 1933.24,1310.5 1950.98,1305.5 1968.71,1297.17 1986.45,1290.5 2004.19,1285.5 2021.93,1272.17 2039.67,1267.58" fill="none" stroke="#20854E" stroke-width="3.9" stroke-linejoin="round" stroke-linecap="butt"/>
<rect x="1910.5" y="1210.39" width="135.6" height="106.5" fill="none" stroke="#66654E" stroke-width="1.5"/>
<line x1="1904.7" y1="1236.75" x2="1910" y2="1236.75" stroke="#333333" stroke-width="1.9"/>
<text class="tk" x="1899.2" y="1243.95" text-anchor="end">10</text>
<line x1="1904.7" y1="1275.5" x2="1910" y2="1275.5" stroke="#333333" stroke-width="1.9"/>
<text class="tk" x="1899.2" y="1282.7" text-anchor="end">5</text>
<line x1="1904.7" y1="1314.25" x2="1910" y2="1314.25" stroke="#333333" stroke-width="1.9"/>
<text class="tk" x="1899.2" y="1321.45" text-anchor="end">0</text>
<line x1="1915.5" y1="1317.39" x2="1915.5" y2="1322.69" stroke="#333333" stroke-width="1.9"/>
<text class="tk" x="1915.5" y="1341.29" text-anchor="middle">2020s</text>
<line x1="2039.67" y1="1317.39" x2="2039.67" y2="1322.69" stroke="#333333" stroke-width="1.9"/>
<text class="tk" x="2039.67" y="1341.29" text-anchor="middle">2090s</text>
<text class="st" x="1978.3" y="1202.89" text-anchor="middle">SAU</text>
</g>
<text class="lg" style="font-size:26.75px" transform="translate(25.5,673.5) rotate(-90)" text-anchor="middle">Projected CDHW exposure under SSP3-7.0 (million persons per year)</text>
<text class="lg" x="572.1" y="1397">Mean projected exposure during long-term future</text>
<rect x="1104.3" y="1374.6" width="25.7" height="26.7" fill="#F2F2F2"/>
<rect x="1189.6" y="1374.6" width="26.4" height="26.7" fill="#FFFFD9"/>
<rect x="1310.4" y="1374.6" width="27.6" height="26.7" fill="#F7E2AB"/>
<rect x="1456.5" y="1374.6" width="26.8" height="26.7" fill="#FDC2BE"/>
<rect x="1616.5" y="1374.6" width="27.5" height="26.7" fill="#B08EAF"/>
<text class="lg" x="1144.6" y="1397">≤ 5</text>
<text class="lg" x="1230.4" y="1397">5 ~ 50</text>
<text class="lg" x="1349.8" y="1397">50 ~ 100</text>
<text class="lg" x="1497.6" y="1397">100 ~ 500</text>
<text class="lg" x="1656.4" y="1397">&gt; 500</text>
<text class="lg" x="770.1" y="1426.3">Population data</text>
<line x1="952" y1="1417.6" x2="976" y2="1417.6" stroke="#BC3C29" stroke-width="3.9"/>
<text class="lg" x="989.6" y="1426.3">ECNU</text>
<line x1="1072.5" y1="1417.6" x2="1096.5" y2="1417.6" stroke="#0072B5" stroke-width="3.9"/>
<text class="lg" x="1109.4" y="1426.3">Lund</text>
<line x1="1178" y1="1417.6" x2="1202.7" y2="1417.6" stroke="#E18727" stroke-width="3.9"/>
<text class="lg" x="1216.8" y="1426.3">NASA SEDAC</text>
<line x1="1383.8" y1="1417.6" x2="1408.8" y2="1417.6" stroke="#20854E" stroke-width="3.9"/>
<text class="lg" x="1423.6" y="1426.3">Tsinghua</text>
</svg></body></html>
